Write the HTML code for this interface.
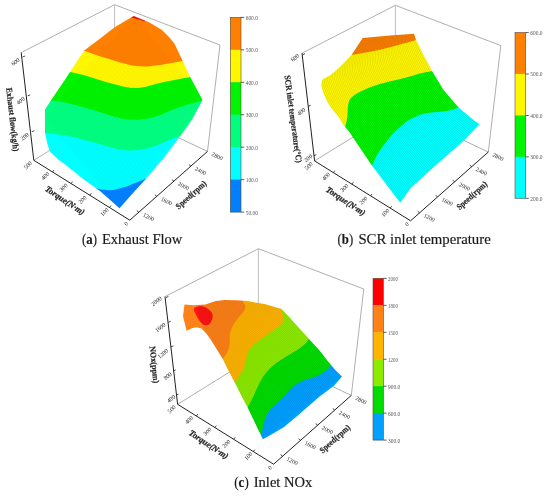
<!DOCTYPE html>
<html lang="en"><head><meta charset="utf-8"><title>Figure</title>
<style>
html,body{margin:0;padding:0;background:#fff;}
body{width:550px;height:496px;overflow:hidden;font-family:"Liberation Serif",serif;}
svg{display:block;}
</style></head><body>
<svg width="550" height="496" viewBox="0 0 550 496">
<rect width="550" height="496" fill="#ffffff"/>
<g id="plot-a"><g fill="none" stroke="#8c8c8c" stroke-width="0.7"><polyline points="21.2,52.6 114.6,4.7 220.0,45.0 207.5,151.4"/><line x1="114.6" y1="5.0" x2="114.6" y2="30" stroke="#b8b8b8" stroke-width="0.9"/><polyline points="33.8,160.3 117.0,108.7 207.5,151.4"/></g><mask id="ca" maskUnits="userSpaceOnUse" x="0" y="0" width="550" height="496"><path d="M133.7,16 L149.5,22.5 L162,30 L169.5,37.5 L174.5,43.7 L182.7,61 L190.2,77 L202.5,100 L192.3,119 L186.5,127.5 L180,136.3 L165.7,155.5 L146.3,178.5 L133,193 L119.5,208.2 L100,191 L84.5,180 L66.4,165.5 L57.7,159 L50,151.8 L47.3,143.6 L45,133 L45,109.5 L51.5,99.5 L64.8,80 L70,72 L84.2,50.4 L100.5,38.2 L114.6,27.3 L124.7,21.2 Z" fill="#fff"/></mask><g mask="url(#ca)"><rect x="0" y="0" width="550" height="496" fill="#0080FF"/><path d="M88.0,185.5 C90.1,186.1 97.2,188.5 100.5,189.3 C103.8,190.1 105.7,190.1 108.0,190.2 C110.3,190.3 112.2,190.2 114.5,189.8 C116.8,189.4 119.6,188.5 122.0,187.8 C124.4,187.1 126.4,186.4 129.0,185.4 C131.6,184.4 134.6,183.2 137.5,182.1 C140.4,180.9 143.2,179.7 146.3,178.5 C149.4,177.3 154.4,175.6 156.0,175.0 L356,175 L356,-50 L-112,-50 L-112,185.5 Z" fill="#00FFFF"/><path d="M35.0,132.3 C36.7,132.4 39.7,132.2 45.0,132.8 C50.3,133.4 60.3,134.6 67.0,135.8 C73.7,137.0 79.0,138.7 85.0,140.2 C91.0,141.7 98.5,143.8 103.0,145.0 C107.5,146.2 108.4,146.8 112.0,147.7 C115.6,148.6 120.0,149.8 124.5,150.2 C129.0,150.6 134.2,150.6 139.0,150.0 C143.8,149.4 148.8,148.2 153.6,146.6 C158.4,145.0 163.7,141.9 168.1,140.2 C172.5,138.5 176.2,137.5 180.2,136.2 C184.2,134.9 190.0,133.1 192.0,132.5 L392,132.5 L392,-50 L-165,-50 L-165,132.3 Z" fill="#00FF80"/><path d="M40.0,99.0 C41.9,99.3 46.8,99.9 51.3,100.6 C55.8,101.3 61.6,101.8 67.3,103.0 C73.0,104.2 79.5,106.1 85.5,107.8 C91.5,109.5 99.2,111.9 103.6,113.3 C108.0,114.7 109.0,115.2 112.0,116.0 C115.0,116.8 118.8,117.8 121.8,118.4 C124.8,119.0 126.3,119.4 130.0,119.5 C133.7,119.6 139.2,119.9 143.9,119.2 C148.6,118.5 153.6,117.2 158.4,115.6 C163.2,114.0 168.2,111.3 173.0,109.5 C177.8,107.7 182.6,106.2 187.5,104.7 C192.4,103.2 197.9,101.6 202.5,100.3 C207.1,99.0 212.9,97.5 215.0,97.0 L415,97 L415,-50 L-160,-50 L-160,99 Z" fill="#00F400"/><path d="M58.0,70.0 C60.0,70.3 65.1,71.0 70.0,72.0 C74.9,73.0 80.4,74.2 87.5,76.2 C94.6,78.2 104.2,81.7 112.5,83.7 C120.8,85.7 128.8,88.2 137.0,88.0 C145.2,87.8 153.1,84.3 162.0,82.5 C170.9,80.7 183.9,78.2 190.2,77.0 C196.5,75.8 198.4,75.3 200.0,75.0 L400,75 L400,-50 L-142,-50 L-142,70 Z" fill="#FFF700"/><path d="M73.0,47.5 C74.8,48.0 79.2,49.2 83.7,50.7 C88.2,52.2 95.6,54.8 100.0,56.2 C104.4,57.6 106.3,58.1 110.0,59.2 C113.7,60.3 117.7,61.9 122.0,63.0 C126.3,64.1 131.3,65.5 136.0,66.0 C140.7,66.5 145.0,66.5 150.0,66.2 C155.0,65.9 160.6,64.9 166.0,64.0 C171.4,63.1 177.6,62.0 182.4,61.0 C187.2,60.0 192.9,58.5 195.0,58.0 L395,58 L395,-50 L-127,-50 L-127,47.5 Z" fill="#FF8000"/><polygon points="130,14 145,14 145,21.5 138,19.2 131.5,17.4" fill="#FF0000"/><g stroke="rgba(0,0,0,0.07)" stroke-width="0.3" fill="none"><line x1="45.0" y1="110.0" x2="118.7" y2="207.7"/><line x1="47.2" y1="107.7" x2="120.8" y2="205.0"/><line x1="49.4" y1="105.3" x2="122.9" y2="202.3"/><line x1="51.7" y1="103.0" x2="125.0" y2="199.6"/><line x1="53.9" y1="100.6" x2="127.1" y2="196.9"/><line x1="56.1" y1="98.2" x2="129.2" y2="194.2"/><line x1="58.3" y1="95.9" x2="131.3" y2="191.5"/><line x1="60.5" y1="93.5" x2="133.4" y2="188.9"/><line x1="62.7" y1="91.2" x2="135.5" y2="186.2"/><line x1="65.0" y1="88.8" x2="137.6" y2="183.5"/><line x1="67.2" y1="86.5" x2="139.7" y2="180.8"/><line x1="69.4" y1="84.2" x2="141.7" y2="178.1"/><line x1="71.6" y1="81.8" x2="143.8" y2="175.4"/><line x1="73.8" y1="79.5" x2="145.9" y2="172.7"/><line x1="76.0" y1="77.1" x2="148.0" y2="170.0"/><line x1="78.3" y1="74.8" x2="150.1" y2="167.3"/><line x1="80.5" y1="72.4" x2="152.2" y2="164.6"/><line x1="82.7" y1="70.1" x2="154.3" y2="161.9"/><line x1="84.9" y1="67.7" x2="156.4" y2="159.2"/><line x1="87.1" y1="65.3" x2="158.5" y2="156.5"/><line x1="89.3" y1="63.0" x2="160.6" y2="153.8"/><line x1="91.6" y1="60.6" x2="162.7" y2="151.2"/><line x1="93.8" y1="58.3" x2="164.8" y2="148.5"/><line x1="96.0" y1="56.0" x2="166.9" y2="145.8"/><line x1="98.2" y1="53.6" x2="169.0" y2="143.1"/><line x1="100.4" y1="51.2" x2="171.1" y2="140.4"/><line x1="102.7" y1="48.9" x2="173.2" y2="137.7"/><line x1="104.9" y1="46.5" x2="175.3" y2="135.0"/><line x1="107.1" y1="44.2" x2="177.4" y2="132.3"/><line x1="109.3" y1="41.9" x2="179.5" y2="129.6"/><line x1="111.5" y1="39.5" x2="181.6" y2="126.9"/><line x1="113.7" y1="37.1" x2="183.6" y2="124.2"/><line x1="116.0" y1="34.8" x2="185.7" y2="121.5"/><line x1="118.2" y1="32.5" x2="187.8" y2="118.8"/><line x1="120.4" y1="30.1" x2="189.9" y2="116.2"/><line x1="122.6" y1="27.8" x2="192.0" y2="113.5"/><line x1="124.8" y1="25.4" x2="194.1" y2="110.8"/><line x1="127.0" y1="23.0" x2="196.2" y2="108.1"/><line x1="129.3" y1="20.7" x2="198.3" y2="105.4"/><line x1="131.5" y1="18.4" x2="200.4" y2="102.7"/><line x1="133.7" y1="16.0" x2="202.5" y2="100.0"/></g><g stroke="rgba(0,0,0,0.13)" stroke-width="0.3" fill="none"><line x1="45.0" y1="120.0" x2="133.7" y2="16.0"/><line x1="46.4" y1="121.7" x2="135.0" y2="17.6"/><line x1="47.8" y1="123.4" x2="136.3" y2="19.2"/><line x1="49.3" y1="125.1" x2="137.7" y2="20.8"/><line x1="50.7" y1="126.7" x2="139.0" y2="22.5"/><line x1="52.1" y1="128.4" x2="140.3" y2="24.1"/><line x1="53.5" y1="130.1" x2="141.6" y2="25.7"/><line x1="54.9" y1="131.8" x2="143.0" y2="27.3"/><line x1="56.3" y1="133.5" x2="144.3" y2="28.9"/><line x1="57.8" y1="135.2" x2="145.6" y2="30.5"/><line x1="59.2" y1="136.9" x2="146.9" y2="32.2"/><line x1="60.6" y1="138.6" x2="148.3" y2="33.8"/><line x1="62.0" y1="140.2" x2="149.6" y2="35.4"/><line x1="63.4" y1="141.9" x2="150.9" y2="37.0"/><line x1="64.8" y1="143.6" x2="152.2" y2="38.6"/><line x1="66.3" y1="145.3" x2="153.5" y2="40.2"/><line x1="67.7" y1="147.0" x2="154.9" y2="41.8"/><line x1="69.1" y1="148.7" x2="156.2" y2="43.5"/><line x1="70.5" y1="150.4" x2="157.5" y2="45.1"/><line x1="71.9" y1="152.0" x2="158.8" y2="46.7"/><line x1="73.3" y1="153.7" x2="160.2" y2="48.3"/><line x1="74.8" y1="155.4" x2="161.5" y2="49.9"/><line x1="76.2" y1="157.1" x2="162.8" y2="51.5"/><line x1="77.6" y1="158.8" x2="164.1" y2="53.2"/><line x1="79.0" y1="160.5" x2="165.5" y2="54.8"/><line x1="80.4" y1="162.2" x2="166.8" y2="56.4"/><line x1="81.8" y1="163.8" x2="168.1" y2="58.0"/><line x1="83.3" y1="165.5" x2="169.4" y2="59.6"/><line x1="84.7" y1="167.2" x2="170.7" y2="61.2"/><line x1="86.1" y1="168.9" x2="172.1" y2="62.8"/><line x1="87.5" y1="170.6" x2="173.4" y2="64.5"/><line x1="88.9" y1="172.3" x2="174.7" y2="66.1"/><line x1="90.4" y1="174.0" x2="176.0" y2="67.7"/><line x1="91.8" y1="175.7" x2="177.4" y2="69.3"/><line x1="93.2" y1="177.3" x2="178.7" y2="70.9"/><line x1="94.6" y1="179.0" x2="180.0" y2="72.5"/><line x1="96.0" y1="180.7" x2="181.3" y2="74.2"/><line x1="97.4" y1="182.4" x2="182.7" y2="75.8"/><line x1="98.9" y1="184.1" x2="184.0" y2="77.4"/><line x1="100.3" y1="185.8" x2="185.3" y2="79.0"/><line x1="101.7" y1="187.5" x2="186.6" y2="80.6"/><line x1="103.1" y1="189.1" x2="187.9" y2="82.2"/><line x1="104.5" y1="190.8" x2="189.3" y2="83.8"/><line x1="105.9" y1="192.5" x2="190.6" y2="85.5"/><line x1="107.4" y1="194.2" x2="191.9" y2="87.1"/><line x1="108.8" y1="195.9" x2="193.2" y2="88.7"/><line x1="110.2" y1="197.6" x2="194.6" y2="90.3"/><line x1="111.6" y1="199.3" x2="195.9" y2="91.9"/><line x1="113.0" y1="201.0" x2="197.2" y2="93.5"/><line x1="114.4" y1="202.6" x2="198.5" y2="95.2"/><line x1="115.9" y1="204.3" x2="199.9" y2="96.8"/><line x1="117.3" y1="206.0" x2="201.2" y2="98.4"/><line x1="118.7" y1="207.7" x2="202.5" y2="100.0"/></g></g><polyline points="21.2,52.6 33.8,160.3 129.8,220.2 207.5,151.4" fill="none" stroke="#151515" stroke-width="0.95" stroke-linejoin="round"/><g stroke="#1a1a1a" stroke-width="0.8"><line x1="22.6" y1="57.0" x2="25.0" y2="56.0"/><line x1="27.7" y1="95.9" x2="30.1" y2="94.9"/><line x1="31.9" y1="131.7" x2="34.3" y2="130.7"/></g><text transform="translate(15.4,61.8) rotate(-38)" y="2.0" font-size="5.9" font-family="Liberation Serif, serif" font-weight="normal" font-style="normal" text-anchor="middle" fill="#262626" >600</text><text transform="translate(20.5,100.7) rotate(-38)" y="2.0" font-size="5.9" font-family="Liberation Serif, serif" font-weight="normal" font-style="normal" text-anchor="middle" fill="#262626" >400</text><text transform="translate(24.7,136.5) rotate(-38)" y="2.0" font-size="5.9" font-family="Liberation Serif, serif" font-weight="normal" font-style="normal" text-anchor="middle" fill="#262626" >200</text><g stroke="#1a1a1a" stroke-width="0.8"><line x1="52.5" y1="172.0" x2="54.1" y2="170.1"/><line x1="71.0" y1="183.5" x2="72.6" y2="181.6"/><line x1="89.8" y1="195.2" x2="91.4" y2="193.3"/><line x1="109.4" y1="207.5" x2="111.0" y2="205.6"/></g><text transform="translate(27.8,165.3) rotate(-43)" y="2.1" font-size="5.9" font-family="Liberation Serif, serif" font-weight="normal" font-style="normal" text-anchor="middle" fill="#262626" >500</text><text transform="translate(45.2,175.9) rotate(-43)" y="2.1" font-size="5.9" font-family="Liberation Serif, serif" font-weight="normal" font-style="normal" text-anchor="middle" fill="#262626" >400</text><text transform="translate(63.5,187.4) rotate(-43)" y="2.1" font-size="5.9" font-family="Liberation Serif, serif" font-weight="normal" font-style="normal" text-anchor="middle" fill="#262626" >300</text><text transform="translate(82.5,199.8) rotate(-43)" y="2.1" font-size="5.9" font-family="Liberation Serif, serif" font-weight="normal" font-style="normal" text-anchor="middle" fill="#262626" >200</text><text transform="translate(104.4,212.0) rotate(-43)" y="2.1" font-size="5.9" font-family="Liberation Serif, serif" font-weight="normal" font-style="normal" text-anchor="middle" fill="#262626" >100</text><text transform="translate(126.2,223.7) rotate(-43)" y="2.1" font-size="5.9" font-family="Liberation Serif, serif" font-weight="normal" font-style="normal" text-anchor="middle" fill="#262626" >0</text><g stroke="#1a1a1a" stroke-width="0.8"><line x1="138.8" y1="212.2" x2="136.8" y2="210.6"/><line x1="156.8" y1="196.3" x2="154.8" y2="194.7"/><line x1="173.9" y1="181.2" x2="171.9" y2="179.6"/><line x1="190.9" y1="166.1" x2="188.9" y2="164.5"/></g><text transform="translate(148.6,216.9) rotate(27)" y="2.1" font-size="5.9" font-family="Liberation Serif, serif" font-weight="normal" font-style="normal" text-anchor="middle" fill="#262626" >1200</text><text transform="translate(166.6,201.0) rotate(27)" y="2.1" font-size="5.9" font-family="Liberation Serif, serif" font-weight="normal" font-style="normal" text-anchor="middle" fill="#262626" >1600</text><text transform="translate(183.7,185.9) rotate(27)" y="2.1" font-size="5.9" font-family="Liberation Serif, serif" font-weight="normal" font-style="normal" text-anchor="middle" fill="#262626" >2000</text><text transform="translate(200.7,170.8) rotate(27)" y="2.1" font-size="5.9" font-family="Liberation Serif, serif" font-weight="normal" font-style="normal" text-anchor="middle" fill="#262626" >2400</text><text transform="translate(217.3,156.1) rotate(27)" y="2.1" font-size="5.9" font-family="Liberation Serif, serif" font-weight="normal" font-style="normal" text-anchor="middle" fill="#262626" >2800</text><text transform="translate(64.8,200.7) rotate(33.5)" y="2.6" font-size="8.7" font-family="Liberation Serif, serif" font-weight="bold" font-style="italic" text-anchor="middle" fill="#262626" textLength="45.5" lengthAdjust="spacingAndGlyphs" stroke="#222" stroke-width="0.25">Torque(N·m)</text><text transform="translate(191.2,195.0) rotate(-42)" y="2.6" font-size="8.6" font-family="Liberation Serif, serif" font-weight="bold" font-style="normal" text-anchor="middle" fill="#262626" textLength="38" lengthAdjust="spacingAndGlyphs" stroke="#222" stroke-width="0.2">Speed(rpm)</text><text transform="translate(12.4,119.6) rotate(83.7)" y="2.6" font-size="8.6" font-family="Liberation Serif, serif" font-weight="bold" font-style="normal" text-anchor="middle" fill="#262626" textLength="64" lengthAdjust="spacingAndGlyphs" stroke="#222" stroke-width="0.2">Exhaust flow(kg/h)</text><rect x="230.3" y="17.30" width="10.70" height="32.75" fill="#FF8000"/><rect x="230.3" y="49.75" width="10.70" height="32.75" fill="#FFF700"/><rect x="230.3" y="82.20" width="10.70" height="32.75" fill="#00F400"/><rect x="230.3" y="114.65" width="10.70" height="32.75" fill="#00FF80"/><rect x="230.3" y="147.10" width="10.70" height="32.75" fill="#00FFFF"/><rect x="230.3" y="179.55" width="10.70" height="32.75" fill="#0080FF"/><rect x="230.3" y="17.30" width="10.70" height="194.70" fill="none" stroke="#5a4a3a" stroke-width="0.6"/><line x1="241.0" y1="17.40" x2="244.20" y2="17.40" stroke="#333" stroke-width="0.8"/><text x="245.70" y="19.80" font-size="5.2" font-family="Liberation Serif, serif" fill="#555" textLength="12.20" lengthAdjust="spacingAndGlyphs">600.0</text><line x1="241.0" y1="49.85" x2="244.20" y2="49.85" stroke="#333" stroke-width="0.8"/><text x="245.70" y="52.25" font-size="5.2" font-family="Liberation Serif, serif" fill="#555" textLength="12.20" lengthAdjust="spacingAndGlyphs">500.0</text><line x1="241.0" y1="82.30" x2="244.20" y2="82.30" stroke="#333" stroke-width="0.8"/><text x="245.70" y="84.70" font-size="5.2" font-family="Liberation Serif, serif" fill="#555" textLength="12.20" lengthAdjust="spacingAndGlyphs">400.0</text><line x1="241.0" y1="114.75" x2="244.20" y2="114.75" stroke="#333" stroke-width="0.8"/><text x="245.70" y="117.15" font-size="5.2" font-family="Liberation Serif, serif" fill="#555" textLength="12.20" lengthAdjust="spacingAndGlyphs">300.0</text><line x1="241.0" y1="147.20" x2="244.20" y2="147.20" stroke="#333" stroke-width="0.8"/><text x="245.70" y="149.60" font-size="5.2" font-family="Liberation Serif, serif" fill="#555" textLength="12.20" lengthAdjust="spacingAndGlyphs">200.0</text><line x1="241.0" y1="179.65" x2="244.20" y2="179.65" stroke="#333" stroke-width="0.8"/><text x="245.70" y="182.05" font-size="5.2" font-family="Liberation Serif, serif" fill="#555" textLength="12.20" lengthAdjust="spacingAndGlyphs">100.0</text><line x1="241.0" y1="212.10" x2="244.20" y2="212.10" stroke="#333" stroke-width="0.8"/><text x="245.70" y="214.50" font-size="5.2" font-family="Liberation Serif, serif" fill="#555" textLength="12.20" lengthAdjust="spacingAndGlyphs">50.00</text></g>
<g id="plot-b"><g fill="none" stroke="#8c8c8c" stroke-width="0.7"><polyline points="302.0,53.2 395.4,5.3 500.8,45.6 488.3,152.0"/><line x1="395.4" y1="5.6" x2="395.4" y2="36" stroke="#b8b8b8" stroke-width="0.9"/><polyline points="314.6,160.9 397.8,109.3 488.3,152.0"/></g><mask id="cb" maskUnits="userSpaceOnUse" x="0" y="0" width="550" height="496"><path d="M362.7,38 L390,35.5 L414,33.7 L416,40 L423.5,55 L432,71 L443.5,90 L458.5,107.5 L476,122 L479.7,124 L464.7,140 L436,165 L411,187.7 L400.2,202.7 L371.5,165 L349,131.5 L342.7,124 L339,117.5 L332.7,110 L327.7,102.5 L324,95 L321.3,85.5 L322.4,79.5 L330.2,75.2 L337.7,69.1 L345.3,61.5 L351.5,55 Z" fill="#fff"/></mask><g mask="url(#cb)"><rect x="0" y="0" width="550" height="496" fill="#00FFFF"/><path d="M362.0,180.0 C363.6,177.8 368.7,170.8 371.3,166.5 C373.9,162.2 375.2,158.1 377.4,154.4 C379.6,150.7 381.9,147.7 384.4,144.3 C386.9,140.9 389.8,137.1 392.5,134.2 C395.2,131.2 398.3,128.7 400.6,126.6 C402.9,124.5 404.5,123.2 406.5,121.8 C408.5,120.4 410.0,119.3 412.7,118.0 C415.4,116.7 418.9,115.0 422.5,114.0 C426.1,113.0 430.2,112.7 434.0,112.2 C437.8,111.7 442.5,111.6 445.5,111.2 C448.5,110.8 449.8,110.4 452.0,109.8 C454.2,109.2 455.5,108.5 458.5,107.5 C461.5,106.5 468.1,104.2 470.0,103.5 L670,103.5 L670,-50 L162,-50 L162,180 Z" fill="#00F400"/><path d="M340.0,145.0 C340.9,141.9 344.0,131.0 345.2,126.5 C346.4,122.0 346.7,121.3 347.2,118.0 C347.7,114.7 347.5,109.6 348.0,106.4 C348.5,103.2 348.9,101.2 350.2,99.1 C351.5,97.0 353.3,95.7 356.0,94.0 C358.7,92.3 362.1,90.6 366.2,88.9 C370.3,87.2 375.4,85.4 380.7,83.8 C386.0,82.2 392.9,80.8 398.2,79.5 C403.5,78.2 409.1,76.8 412.7,75.8 C416.3,74.8 416.8,74.4 420.0,73.6 C423.2,72.8 427.8,71.9 432.0,71.0 C436.2,70.1 442.8,68.5 445.0,68.0 L645,68 L645,-50 L140,-50 L140,145 Z" fill="#FFF700"/><path d="M340.0,57.5 C341.9,57.1 345.0,56.2 351.5,55.0 C358.0,53.8 369.1,52.2 379.0,50.0 C388.9,47.8 404.8,43.2 411.0,41.5 C417.2,39.8 413.2,40.8 416.0,40.0 C418.8,39.2 426.0,37.5 428.0,37.0 L628,37 L628,-50 L140,-50 L140,57.5 Z" fill="#FF8000"/><g stroke="rgba(0,0,0,0.25)" stroke-width="0.38" fill="none"><path d="M400.2,202.7 C395.4,196.4 380.0,176.9 371.5,165.0 C363.0,153.1 355.5,140.7 349.0,131.5 C342.5,122.3 337.3,117.8 332.7,110.0 C328.1,102.2 323.3,91.3 321.5,85.0 C319.7,78.7 320.8,76.8 322.0,72.0 C323.2,67.2 326.0,61.7 329.0,56.0 C332.0,50.3 336.2,44.0 340.0,38.0 C343.8,32.0 350.0,23.0 352.0,20.0"/><path d="M401.5,201.4 C396.8,195.2 381.4,175.8 372.9,164.0 C364.5,152.3 357.0,139.9 350.6,130.8 C344.1,121.7 338.9,117.1 334.4,109.3 C329.8,101.6 325.0,90.8 323.2,84.5 C321.4,78.2 322.4,76.4 323.6,71.6 C324.8,66.8 327.5,61.3 330.4,55.7 C333.4,50.1 337.5,43.9 341.2,37.9 C345.0,32.0 351.0,23.1 353.0,20.1"/><path d="M402.8,200.1 C398.1,193.9 382.8,174.7 374.4,163.1 C365.9,151.4 358.5,139.2 352.1,130.1 C345.8,121.1 340.6,116.4 336.0,108.7 C331.5,101.0 326.7,90.3 324.9,84.0 C323.1,77.7 324.1,75.9 325.2,71.1 C326.4,66.4 329.0,61.0 331.9,55.5 C334.8,49.9 338.8,43.7 342.5,37.9 C346.1,32.0 352.1,23.2 354.0,20.2"/><path d="M404.2,198.8 C399.5,192.7 384.3,173.7 375.9,162.1 C367.4,150.6 360.1,138.4 353.7,129.4 C347.4,120.4 342.2,115.7 337.7,108.0 C333.1,100.4 328.4,89.7 326.6,83.5 C324.8,77.3 325.7,75.4 326.9,70.7 C328.0,66.0 330.5,60.7 333.4,55.2 C336.2,49.7 340.1,43.6 343.7,37.8 C347.3,32.0 353.1,23.3 355.0,20.4"/><path d="M405.5,197.5 C400.8,191.4 385.7,172.6 377.3,161.2 C368.9,149.7 361.6,137.7 355.3,128.7 C349.0,119.8 343.8,115.0 339.3,107.4 C334.8,99.8 330.1,89.2 328.3,83.0 C326.5,76.8 327.4,74.9 328.5,70.3 C329.5,65.6 332.1,60.4 334.8,54.9 C337.5,49.5 341.4,43.5 344.9,37.7 C348.5,32.0 354.2,23.3 356.0,20.5"/><path d="M406.8,196.1 C402.1,190.2 387.1,171.6 378.8,160.2 C370.4,148.9 363.2,137.0 356.9,128.0 C350.6,119.1 345.5,114.3 341.0,106.8 C336.5,99.2 331.8,88.7 330.0,82.5 C328.2,76.3 329.0,74.5 330.1,69.8 C331.1,65.2 333.6,60.0 336.2,54.7 C338.9,49.3 342.7,43.3 346.2,37.6 C349.6,32.0 355.2,23.4 357.0,20.6"/><path d="M408.1,194.8 C403.5,188.9 388.5,170.5 380.2,159.2 C371.9,148.0 364.7,136.2 358.4,127.3 C352.2,118.5 347.1,113.7 342.6,106.1 C338.2,98.5 333.5,88.1 331.7,82.0 C329.9,75.9 330.7,74.0 331.7,69.4 C332.7,64.8 335.1,59.7 337.7,54.4 C340.3,49.1 344.0,43.2 347.4,37.6 C350.8,32.0 356.2,23.5 358.0,20.7"/><path d="M409.5,193.5 C404.8,187.6 389.9,169.4 381.6,158.3 C373.4,147.1 366.3,135.5 360.0,126.7 C353.8,117.9 348.7,113.0 344.3,105.5 C339.8,97.9 335.2,87.6 333.4,81.5 C331.6,75.4 332.4,73.5 333.3,69.0 C334.3,64.4 336.6,59.4 339.1,54.1 C341.7,48.9 345.3,43.1 348.6,37.5 C351.9,31.9 357.3,23.6 359.0,20.8"/><path d="M410.8,192.2 C406.2,186.4 391.3,168.4 383.1,157.3 C374.9,146.3 367.8,134.7 361.6,126.0 C355.4,117.2 350.4,112.3 345.9,104.8 C341.5,97.3 336.9,87.0 335.1,81.0 C333.3,75.0 334.0,73.1 334.9,68.5 C335.9,64.0 338.1,59.1 340.6,53.9 C343.1,48.7 346.6,42.9 349.9,37.4 C353.1,31.9 358.3,23.7 360.0,20.9"/><path d="M412.1,190.9 C407.5,185.1 392.7,167.3 384.6,156.4 C376.4,145.4 369.3,134.0 363.2,125.3 C357.0,116.6 352.0,111.6 347.6,104.2 C343.2,96.7 338.6,86.5 336.8,80.5 C335.0,74.5 335.7,72.6 336.6,68.1 C337.4,63.6 339.6,58.7 342.1,53.6 C344.5,48.5 347.9,42.8 351.1,37.4 C354.3,31.9 359.4,23.8 361.0,21.1"/><path d="M413.4,189.6 C408.9,183.9 394.1,166.2 386.0,155.4 C377.9,144.6 370.9,133.2 364.8,124.6 C358.6,115.9 353.6,110.9 349.2,103.5 C344.9,96.1 340.3,86.0 338.5,80.0 C336.7,74.0 337.3,72.1 338.2,67.7 C339.0,63.2 341.1,58.4 343.5,53.3 C345.9,48.3 349.2,42.6 352.3,37.3 C355.4,31.9 360.4,23.9 362.0,21.2"/><path d="M414.8,188.3 C410.2,182.6 395.5,165.2 387.4,154.5 C379.4,143.7 372.4,132.5 366.3,123.9 C360.2,115.3 355.3,110.2 350.9,102.8 C346.6,95.5 342.1,85.4 340.2,79.5 C338.3,73.6 339.0,71.6 339.8,67.2 C340.6,62.8 342.7,58.1 344.9,53.1 C347.2,48.1 350.6,42.5 353.6,37.2 C356.6,31.9 361.4,23.9 363.0,21.3"/><path d="M416.1,187.0 C411.6,181.4 396.9,164.1 388.9,153.5 C380.9,142.9 374.0,131.8 367.9,123.2 C361.8,114.7 356.9,109.6 352.6,102.2 C348.2,94.8 343.8,84.9 341.9,79.0 C340.0,73.1 340.6,71.2 341.4,66.8 C342.1,62.4 344.2,57.7 346.4,52.8 C348.6,47.9 351.9,42.4 354.8,37.1 C357.7,31.9 362.5,24.0 364.0,21.4"/><path d="M417.4,185.6 C412.9,180.1 398.3,163.1 390.4,152.5 C382.4,142.0 375.5,131.0 369.5,122.5 C363.5,114.0 358.5,108.9 354.2,101.5 C349.9,94.2 345.5,84.4 343.6,78.5 C341.7,72.6 342.3,70.7 343.0,66.4 C343.7,62.0 345.7,57.4 347.9,52.5 C350.0,47.7 353.2,42.2 356.0,37.1 C358.9,31.9 363.5,24.1 365.0,21.5"/><path d="M418.8,184.3 C414.3,178.9 399.8,162.0 391.8,151.6 C383.9,141.2 377.0,130.3 371.1,121.8 C365.1,113.4 360.2,108.2 355.9,100.9 C351.6,93.6 347.2,83.8 345.3,78.0 C343.4,72.2 344.0,70.2 344.6,65.9 C345.3,61.6 347.2,57.1 349.3,52.3 C351.4,47.4 354.5,42.1 357.3,37.0 C360.0,31.9 364.5,24.2 366.0,21.6"/><path d="M420.1,183.0 C415.6,177.6 401.2,160.9 393.2,150.6 C385.3,140.3 378.6,129.5 372.6,121.1 C366.7,112.7 361.8,107.5 357.5,100.2 C353.3,93.0 348.9,83.3 347.0,77.5 C345.1,71.7 345.6,69.8 346.2,65.5 C346.9,61.2 348.7,56.8 350.8,52.0 C352.8,47.2 355.8,42.0 358.5,36.9 C361.2,31.9 365.6,24.3 367.0,21.8"/><path d="M421.4,181.7 C416.9,176.4 402.6,159.9 394.7,149.7 C386.8,139.5 380.1,128.8 374.2,120.4 C368.3,112.1 363.4,106.8 359.2,99.6 C354.9,92.4 350.6,82.8 348.7,77.0 C346.8,71.2 347.3,69.3 347.9,65.1 C348.4,60.9 350.2,56.4 352.2,51.7 C354.2,47.0 357.1,41.8 359.7,36.9 C362.4,31.9 366.6,24.4 368.0,21.9"/><path d="M422.7,180.4 C418.3,175.1 404.0,158.8 396.1,148.7 C388.3,138.6 381.7,128.0 375.8,119.7 C369.9,111.4 365.1,106.2 360.8,99.0 C356.6,91.7 352.3,82.2 350.4,76.5 C348.5,70.8 348.9,68.8 349.5,64.6 C350.0,60.5 351.7,56.1 353.6,51.5 C355.6,46.8 358.4,41.7 361.0,36.8 C363.5,31.9 367.7,24.4 369.0,22.0"/><path d="M424.1,179.1 C419.6,173.9 405.4,157.8 397.6,147.8 C389.8,137.7 383.2,127.3 377.4,119.0 C371.5,110.8 366.7,105.5 362.5,98.3 C358.3,91.1 354.0,81.7 352.1,76.0 C350.2,70.3 350.6,68.3 351.1,64.2 C351.6,60.1 353.2,55.8 355.1,51.2 C357.0,46.6 359.7,41.6 362.2,36.7 C364.7,31.9 368.7,24.5 370.0,22.1"/><path d="M425.4,177.8 C421.0,172.6 406.8,156.7 399.1,146.8 C391.3,136.9 384.7,126.5 378.9,118.4 C373.1,110.2 368.3,104.8 364.1,97.7 C360.0,90.5 355.7,81.1 353.8,75.5 C351.9,69.9 352.3,67.9 352.7,63.8 C353.2,59.7 354.8,55.5 356.6,50.9 C358.3,46.4 361.0,41.4 363.4,36.6 C365.8,31.9 369.7,24.6 371.0,22.2"/><path d="M426.7,176.5 C422.3,171.4 408.2,155.6 400.5,145.8 C392.8,136.0 386.3,125.8 380.5,117.7 C374.7,109.5 370.0,104.1 365.8,97.0 C361.6,89.9 357.4,80.6 355.5,75.0 C353.6,69.4 353.9,67.4 354.3,63.3 C354.8,59.3 356.3,55.1 358.0,50.7 C359.7,46.2 362.3,41.3 364.7,36.6 C367.0,31.8 370.8,24.7 372.0,22.3"/><path d="M428.0,175.2 C423.7,170.1 409.6,154.6 401.9,144.9 C394.3,135.2 387.8,125.1 382.1,117.0 C376.3,108.9 371.6,103.4 367.5,96.3 C363.3,89.3 359.1,80.1 357.2,74.5 C355.3,68.9 355.6,66.9 355.9,62.9 C356.3,58.9 357.8,54.8 359.4,50.4 C361.1,46.0 363.6,41.2 365.9,36.5 C368.2,31.8 371.8,24.8 373.0,22.4"/><path d="M429.3,173.8 C425.0,168.9 411.0,153.5 403.4,143.9 C395.8,134.3 389.4,124.3 383.6,116.3 C377.9,108.2 373.2,102.7 369.1,95.7 C365.0,88.7 360.8,79.5 358.9,74.0 C357.0,68.5 357.2,66.4 357.6,62.5 C357.9,58.5 359.3,54.5 360.9,50.1 C362.5,45.8 364.9,41.0 367.1,36.4 C369.3,31.8 372.9,24.9 374.0,22.6"/><path d="M430.7,172.5 C426.4,167.6 412.4,152.4 404.9,143.0 C397.3,133.5 390.9,123.6 385.2,115.6 C379.5,107.6 374.9,102.1 370.8,95.0 C366.7,88.0 362.5,79.0 360.6,73.5 C358.7,68.0 358.9,66.0 359.2,62.0 C359.5,58.1 360.8,54.1 362.4,49.9 C363.9,45.6 366.3,40.9 368.4,36.4 C370.5,31.8 373.9,25.0 375.0,22.7"/><path d="M432.0,171.2 C427.7,166.3 413.8,151.4 406.3,142.0 C398.8,132.6 392.4,122.8 386.8,114.9 C381.2,107.0 376.5,101.4 372.4,94.4 C368.3,87.4 364.2,78.5 362.3,73.0 C360.4,67.5 360.6,65.5 360.8,61.6 C361.1,57.7 362.3,53.8 363.8,49.6 C365.3,45.4 367.6,40.7 369.6,36.3 C371.6,31.8 374.9,25.0 376.0,22.8"/><path d="M433.3,169.9 C429.1,165.1 415.2,150.3 407.8,141.0 C400.3,131.8 394.0,122.1 388.4,114.2 C382.8,106.3 378.1,100.7 374.1,93.8 C370.0,86.8 365.9,77.9 364.0,72.5 C362.1,67.1 362.2,65.0 362.4,61.2 C362.6,57.3 363.8,53.5 365.2,49.3 C366.7,45.2 368.9,40.6 370.8,36.2 C372.8,31.8 376.0,25.1 377.0,22.9"/><path d="M434.6,168.6 C430.4,163.8 416.6,149.3 409.2,140.1 C401.8,130.9 395.5,121.3 389.9,113.5 C384.4,105.7 379.8,100.0 375.7,93.1 C371.7,86.2 367.6,77.4 365.7,72.0 C363.8,66.6 363.9,64.6 364.0,60.7 C364.2,56.9 365.4,53.2 366.7,49.1 C368.0,45.0 370.2,40.5 372.1,36.1 C373.9,31.8 377.0,25.2 378.0,23.0"/><path d="M436.0,167.3 C431.8,162.6 418.1,148.2 410.6,139.1 C403.2,130.0 397.1,120.6 391.5,112.8 C386.0,105.0 381.4,99.3 377.4,92.5 C373.4,85.6 369.4,76.9 367.4,71.5 C365.4,66.1 365.5,64.1 365.6,60.3 C365.8,56.5 366.9,52.8 368.1,48.8 C369.4,44.8 371.5,40.3 373.3,36.1 C375.1,31.8 378.1,25.3 379.0,23.1"/><path d="M437.3,166.0 C433.1,161.3 419.5,147.1 412.1,138.2 C404.7,129.2 398.6,119.9 393.1,112.1 C387.6,104.4 383.0,98.7 379.0,91.8 C375.0,84.9 371.1,76.3 369.1,71.0 C367.1,65.7 367.2,63.6 367.3,59.9 C367.3,56.1 368.4,52.5 369.6,48.5 C370.8,44.6 372.8,40.2 374.5,36.0 C376.3,31.8 379.1,25.4 380.0,23.3"/><path d="M438.6,164.7 C434.4,160.1 420.9,146.1 413.6,137.2 C406.2,128.3 400.2,119.1 394.7,111.4 C389.2,103.8 384.7,98.0 380.7,91.2 C376.7,84.3 372.8,75.8 370.8,70.5 C368.8,65.2 368.8,63.1 368.9,59.4 C368.9,55.7 369.9,52.2 371.1,48.3 C372.2,44.3 374.1,40.1 375.8,35.9 C377.4,31.8 380.1,25.5 381.0,23.4"/><path d="M439.9,163.3 C435.8,158.8 422.3,145.0 415.0,136.2 C407.7,127.5 401.7,118.4 396.2,110.8 C390.8,103.1 386.3,97.3 382.4,90.5 C378.4,83.7 374.5,75.2 372.5,70.0 C370.5,64.8 370.5,62.7 370.5,59.0 C370.5,55.3 371.4,51.9 372.5,48.0 C373.6,44.1 375.4,39.9 377.0,35.9 C378.6,31.8 381.2,25.6 382.0,23.5"/><path d="M441.3,162.0 C437.1,157.6 423.7,144.0 416.4,135.3 C409.2,126.6 403.2,117.6 397.8,110.1 C392.4,102.5 387.9,96.6 384.0,89.8 C380.1,83.1 376.2,74.7 374.2,69.5 C372.2,64.3 372.2,62.2 372.1,58.6 C372.1,54.9 372.9,51.5 373.9,47.7 C375.0,43.9 376.7,39.8 378.2,35.8 C379.7,31.8 382.2,25.6 383.0,23.6"/><path d="M442.6,160.7 C438.5,156.3 425.1,142.9 417.9,134.3 C410.7,125.8 404.8,116.9 399.4,109.4 C394.0,101.8 389.6,95.9 385.7,89.2 C381.7,82.5 377.9,74.2 375.9,69.0 C373.9,63.8 373.8,61.7 373.7,58.1 C373.7,54.5 374.4,51.2 375.4,47.5 C376.4,43.7 378.0,39.7 379.5,35.7 C380.9,31.8 383.2,25.7 384.0,23.7"/><path d="M443.9,159.4 C439.8,155.1 426.5,141.8 419.4,133.4 C412.2,124.9 406.3,116.1 401.0,108.7 C395.6,101.2 391.2,95.2 387.3,88.5 C383.4,81.9 379.6,73.6 377.6,68.5 C375.6,63.4 375.5,61.2 375.4,57.7 C375.2,54.2 376.0,50.9 376.9,47.2 C377.7,43.5 379.3,39.5 380.7,35.6 C382.1,31.7 384.3,25.8 385.0,23.9"/><path d="M445.2,158.1 C441.2,153.8 427.9,140.8 420.8,132.4 C413.7,124.1 407.9,115.4 402.6,108.0 C397.2,100.6 392.8,94.6 389.0,87.9 C385.1,81.2 381.3,73.1 379.3,68.0 C377.3,62.9 377.1,60.8 377.0,57.3 C376.8,53.8 377.5,50.6 378.3,46.9 C379.1,43.3 380.6,39.4 381.9,35.6 C383.2,31.7 385.3,25.9 386.0,24.0"/><path d="M446.6,156.8 C442.5,152.6 429.3,139.7 422.2,131.5 C415.2,123.2 409.4,114.7 404.1,107.3 C398.9,99.9 394.5,93.9 390.6,87.2 C386.8,80.6 383.0,72.6 381.0,67.5 C379.0,62.4 378.8,60.3 378.6,56.8 C378.4,53.4 379.0,50.2 379.8,46.7 C380.5,43.1 382.0,39.3 383.2,35.5 C384.4,31.7 386.4,26.0 387.0,24.1"/><path d="M447.9,155.5 C443.9,151.3 430.7,138.6 423.7,130.5 C416.7,122.4 410.9,113.9 405.7,106.6 C400.5,99.3 396.1,93.2 392.3,86.6 C388.4,80.0 384.7,72.0 382.7,67.0 C380.7,62.0 380.4,59.8 380.2,56.4 C379.9,53.0 380.5,49.9 381.2,46.4 C381.9,42.9 383.3,39.1 384.4,35.4 C385.5,31.7 387.4,26.1 388.0,24.2"/><path d="M449.2,154.2 C445.2,150.1 432.1,137.6 425.1,129.5 C418.2,121.5 412.5,113.2 407.3,105.9 C402.1,98.6 397.7,92.5 393.9,86.0 C390.1,79.4 386.4,71.5 384.4,66.5 C382.4,61.5 382.1,59.4 381.8,56.0 C381.5,52.6 382.0,49.6 382.6,46.1 C383.3,42.7 384.6,39.0 385.6,35.3 C386.7,31.7 388.4,26.2 389.0,24.3"/><path d="M450.5,152.9 C446.6,148.8 433.6,136.5 426.6,128.6 C419.7,120.6 414.0,112.4 408.9,105.2 C403.7,98.0 399.4,91.8 395.6,85.3 C391.8,78.8 388.1,71.0 386.1,66.0 C384.1,61.0 383.8,58.9 383.4,55.5 C383.1,52.2 383.5,49.2 384.1,45.9 C384.7,42.5 385.9,38.8 386.9,35.3 C387.9,31.7 389.5,26.2 390.0,24.4"/><path d="M451.9,151.5 C447.9,147.6 435.0,135.5 428.1,127.6 C421.1,119.8 415.6,111.7 410.4,104.5 C405.3,97.4 401.0,91.2 397.2,84.7 C393.5,78.1 389.8,70.4 387.8,65.5 C385.8,60.6 385.4,58.4 385.1,55.1 C384.7,51.8 385.0,48.9 385.6,45.6 C386.1,42.3 387.2,38.7 388.1,35.2 C389.0,31.7 390.5,26.3 391.0,24.6"/><path d="M453.2,150.2 C449.2,146.3 436.4,134.4 429.5,126.7 C422.6,118.9 417.1,110.9 412.0,103.8 C406.9,96.7 402.6,90.5 398.9,84.0 C395.1,77.5 391.5,69.9 389.5,65.0 C387.5,60.1 387.1,57.9 386.7,54.7 C386.2,51.4 386.6,48.6 387.0,45.3 C387.4,42.1 388.5,38.6 389.3,35.1 C390.2,31.7 391.6,26.4 392.0,24.7"/><path d="M454.5,148.9 C450.6,145.1 437.8,133.3 430.9,125.7 C424.1,118.1 418.6,110.2 413.6,103.1 C408.5,96.1 404.3,89.8 400.6,83.3 C396.8,76.9 393.2,69.4 391.2,64.5 C389.2,59.6 388.7,57.5 388.3,54.2 C387.8,51.0 388.1,48.3 388.4,45.1 C388.8,41.9 389.8,38.4 390.6,35.1 C391.3,31.7 392.6,26.5 393.0,24.8"/><path d="M455.8,147.6 C451.9,143.8 439.2,132.3 432.4,124.8 C425.6,117.2 420.2,109.5 415.1,102.5 C410.1,95.4 405.9,89.1 402.2,82.7 C398.5,76.3 395.0,68.8 392.9,64.0 C390.8,59.2 390.4,57.0 389.9,53.8 C389.4,50.6 389.6,47.9 389.9,44.8 C390.2,41.7 391.1,38.3 391.8,35.0 C392.5,31.7 393.6,26.6 394.0,24.9"/><path d="M457.2,146.3 C453.3,142.5 440.6,131.2 433.9,123.8 C427.1,116.4 421.7,108.7 416.7,101.8 C411.7,94.8 407.6,88.4 403.9,82.0 C400.2,75.7 396.7,68.3 394.6,63.5 C392.5,58.7 392.1,56.5 391.5,53.4 C391.0,50.2 391.1,47.6 391.4,44.5 C391.6,41.5 392.4,38.2 393.0,34.9 C393.6,31.7 394.7,26.7 395.0,25.0"/><path d="M458.5,145.0 C454.6,141.3 442.0,130.2 435.3,122.8 C428.6,115.5 423.3,108.0 418.3,101.1 C413.3,94.2 409.2,87.7 405.5,81.4 C401.9,75.1 398.4,67.7 396.3,63.0 C394.2,58.3 393.7,56.1 393.1,52.9 C392.6,49.8 392.6,47.3 392.8,44.3 C393.0,41.3 393.7,38.0 394.3,34.8 C394.8,31.7 395.7,26.8 396.0,25.1"/><path d="M459.8,143.7 C456.0,140.0 443.4,129.1 436.8,121.9 C430.1,114.7 424.8,107.2 419.9,100.4 C414.9,93.5 410.8,87.1 407.2,80.8 C403.5,74.4 400.1,67.2 398.0,62.5 C395.9,57.8 395.4,55.6 394.8,52.5 C394.1,49.4 394.1,47.0 394.2,44.0 C394.4,41.0 395.0,37.9 395.5,34.8 C396.0,31.7 396.8,26.8 397.0,25.2"/><path d="M461.1,142.4 C457.3,138.8 444.8,128.0 438.2,120.9 C431.6,113.8 426.3,106.5 421.4,99.7 C416.6,92.9 412.5,86.4 408.8,80.1 C405.2,73.8 401.8,66.7 399.7,62.0 C397.6,57.3 397.0,55.1 396.4,52.1 C395.7,49.0 395.6,46.6 395.7,43.7 C395.8,40.8 396.4,37.8 396.7,34.7 C397.1,31.6 397.8,26.9 398.0,25.4"/><path d="M462.5,141.1 C458.7,137.5 446.2,127.0 439.6,120.0 C433.1,112.9 427.9,105.7 423.0,99.0 C418.2,92.2 414.1,85.7 410.5,79.5 C406.9,73.2 403.5,66.1 401.4,61.5 C399.3,56.9 398.7,54.6 398.0,51.6 C397.3,48.6 397.2,46.3 397.1,43.5 C397.1,40.6 397.7,37.6 398.0,34.6 C398.3,31.6 398.8,27.0 399.0,25.5"/><path d="M463.8,139.7 C460.0,136.3 447.6,125.9 441.1,119.0 C434.6,112.1 429.4,105.0 424.6,98.3 C419.8,91.6 415.7,85.0 412.1,78.8 C408.6,72.6 405.2,65.6 403.1,61.0 C401.0,56.4 400.4,54.2 399.6,51.2 C398.9,48.2 398.7,46.0 398.6,43.2 C398.5,40.4 399.0,37.5 399.2,34.6 C399.4,31.6 399.9,27.1 400.0,25.6"/><path d="M465.1,138.4 C461.4,135.0 449.0,124.8 442.6,118.0 C436.1,111.2 431.0,104.3 426.2,97.6 C421.4,91.0 417.4,84.3 413.8,78.2 C410.2,72.0 406.9,65.1 404.8,60.5 C402.7,55.9 402.0,53.7 401.2,50.8 C400.4,47.8 400.2,45.6 400.1,42.9 C399.9,40.2 400.3,37.4 400.4,34.5 C400.6,31.6 400.9,27.2 401.0,25.7"/><path d="M466.4,137.1 C462.7,133.8 450.4,123.8 444.0,117.1 C437.6,110.4 432.5,103.5 427.8,96.9 C423.0,90.3 419.0,83.7 415.4,77.5 C411.9,71.3 408.6,64.5 406.5,60.0 C404.4,55.5 403.7,53.2 402.8,50.3 C402.0,47.4 401.7,45.3 401.5,42.7 C401.3,40.0 401.6,37.2 401.7,34.4 C401.8,31.6 401.9,27.3 402.0,25.8"/><path d="M467.8,135.8 C464.1,132.5 451.9,122.7 445.4,116.1 C439.0,109.5 434.0,102.8 429.3,96.2 C424.6,89.7 420.6,83.0 417.1,76.8 C413.6,70.7 410.3,64.0 408.2,59.5 C406.1,55.0 405.3,52.8 404.4,49.9 C403.6,47.1 403.2,45.0 402.9,42.4 C402.7,39.8 402.9,37.1 402.9,34.3 C402.9,31.6 403.0,27.3 403.0,25.9"/><path d="M469.1,134.5 C465.4,131.3 453.3,121.7 446.9,115.2 C440.5,108.7 435.6,102.0 430.9,95.5 C426.2,89.0 422.3,82.3 418.8,76.2 C415.3,70.1 412.0,63.5 409.9,59.0 C407.8,54.5 407.0,52.3 406.1,49.5 C405.1,46.7 404.7,44.7 404.4,42.1 C404.1,39.6 404.2,37.0 404.1,34.3 C404.1,31.6 404.0,27.4 404.0,26.1"/><path d="M470.4,133.2 C466.7,130.0 454.7,120.6 448.4,114.2 C442.0,107.8 437.1,101.3 432.5,94.8 C427.8,88.4 423.9,81.6 420.4,75.6 C416.9,69.5 413.7,62.9 411.6,58.5 C409.5,54.1 408.6,51.8 407.7,49.0 C406.7,46.3 406.2,44.3 405.9,41.9 C405.5,39.4 405.5,36.8 405.4,34.2 C405.2,31.6 405.1,27.5 405.0,26.2"/><path d="M471.8,131.9 C468.1,128.8 456.1,119.5 449.8,113.2 C443.5,107.0 438.7,100.5 434.1,94.2 C429.4,87.8 425.5,80.9 422.1,74.9 C418.6,68.9 415.4,62.4 413.3,58.0 C411.2,53.6 410.3,51.3 409.3,48.6 C408.3,45.9 407.8,44.0 407.3,41.6 C406.9,39.2 406.8,36.7 406.6,34.1 C406.4,31.6 406.1,27.6 406.0,26.3"/><path d="M473.1,130.6 C469.4,127.5 457.5,118.5 451.2,112.3 C445.0,106.1 440.2,99.8 435.6,93.5 C431.0,87.1 427.2,80.2 423.7,74.2 C420.3,68.3 417.1,61.8 415.0,57.5 C412.9,53.2 412.0,50.9 410.9,48.2 C409.9,45.5 409.3,43.7 408.8,41.3 C408.2,39.0 408.1,36.5 407.8,34.1 C407.5,31.6 407.1,27.7 407.0,26.4"/><path d="M474.4,129.2 C470.8,126.3 458.9,117.4 452.7,111.3 C446.5,105.3 441.8,99.1 437.2,92.8 C432.6,86.5 428.8,79.6 425.4,73.6 C422.0,67.6 418.8,61.3 416.7,57.0 C414.6,52.7 413.6,50.4 412.5,47.7 C411.4,45.1 410.8,43.4 410.2,41.1 C409.6,38.8 409.4,36.4 409.1,34.0 C408.7,31.6 408.2,27.8 408.0,26.5"/><path d="M475.7,127.9 C472.1,125.0 460.3,116.4 454.1,110.4 C448.0,104.4 443.3,98.3 438.8,92.1 C434.3,85.8 430.4,78.9 427.0,73.0 C423.6,67.0 420.5,60.8 418.4,56.5 C416.3,52.2 415.3,49.9 414.1,47.3 C413.0,44.7 412.3,43.0 411.6,40.8 C411.0,38.6 410.7,36.3 410.3,33.9 C409.9,31.6 409.2,27.9 409.0,26.6"/><path d="M477.0,126.6 C473.5,123.8 461.7,115.3 455.6,109.4 C449.5,103.5 444.8,97.6 440.4,91.4 C435.9,85.2 432.1,78.2 428.7,72.3 C425.3,66.4 422.3,60.2 420.1,56.0 C417.9,51.8 416.9,49.4 415.8,46.9 C414.6,44.3 413.8,42.7 413.1,40.5 C412.4,38.4 412.0,36.1 411.5,33.8 C411.0,31.5 410.3,27.9 410.0,26.8"/><path d="M478.4,125.3 C474.8,122.5 463.1,114.2 457.1,108.5 C451.0,102.7 446.4,96.8 441.9,90.7 C437.5,84.6 433.7,77.5 430.3,71.7 C427.0,65.8 424.0,59.7 421.8,55.5 C419.6,51.3 418.6,49.0 417.4,46.4 C416.2,43.9 415.3,42.4 414.6,40.3 C413.8,38.2 413.4,36.0 412.8,33.8 C412.2,31.5 411.3,28.0 411.0,26.9"/><path d="M479.7,124.0 C476.2,121.2 464.5,113.2 458.5,107.5 C452.5,101.8 447.9,96.1 443.5,90.0 C439.1,83.9 435.3,76.8 432.0,71.0 C428.7,65.2 425.7,59.2 423.5,55.0 C421.3,50.8 420.2,48.5 419.0,46.0 C417.8,43.5 416.8,42.0 416.0,40.0 C415.2,38.0 414.7,35.9 414.0,33.7 C413.3,31.5 412.3,28.1 412.0,27.0"/></g></g><polyline points="302.0,53.2 314.6,160.9 410.6,220.8 488.3,152.0" fill="none" stroke="#151515" stroke-width="0.95" stroke-linejoin="round"/><g stroke="#1a1a1a" stroke-width="0.8"><line x1="302.6" y1="54.7" x2="305.0" y2="53.7"/><line x1="308.2" y1="106.3" x2="310.6" y2="105.3"/><line x1="313.9" y1="155.7" x2="316.3" y2="154.7"/></g><text transform="translate(294.9,57.7) rotate(-38)" y="2.0" font-size="5.9" font-family="Liberation Serif, serif" font-weight="normal" font-style="normal" text-anchor="middle" fill="#262626" >600</text><text transform="translate(301.2,111.6) rotate(-38)" y="2.0" font-size="5.9" font-family="Liberation Serif, serif" font-weight="normal" font-style="normal" text-anchor="middle" fill="#262626" >400</text><text transform="translate(308.0,158.2) rotate(-38)" y="2.0" font-size="5.9" font-family="Liberation Serif, serif" font-weight="normal" font-style="normal" text-anchor="middle" fill="#262626" >200</text><g stroke="#1a1a1a" stroke-width="0.8"><line x1="333.3" y1="172.6" x2="334.9" y2="170.7"/><line x1="351.8" y1="184.1" x2="353.4" y2="182.2"/><line x1="370.6" y1="195.8" x2="372.2" y2="193.9"/><line x1="390.2" y1="208.1" x2="391.8" y2="206.2"/></g><text transform="translate(308.6,165.9) rotate(-43)" y="2.1" font-size="5.9" font-family="Liberation Serif, serif" font-weight="normal" font-style="normal" text-anchor="middle" fill="#262626" >500</text><text transform="translate(326.0,176.5) rotate(-43)" y="2.1" font-size="5.9" font-family="Liberation Serif, serif" font-weight="normal" font-style="normal" text-anchor="middle" fill="#262626" >400</text><text transform="translate(344.3,188.0) rotate(-43)" y="2.1" font-size="5.9" font-family="Liberation Serif, serif" font-weight="normal" font-style="normal" text-anchor="middle" fill="#262626" >300</text><text transform="translate(363.3,200.4) rotate(-43)" y="2.1" font-size="5.9" font-family="Liberation Serif, serif" font-weight="normal" font-style="normal" text-anchor="middle" fill="#262626" >200</text><text transform="translate(385.2,212.6) rotate(-43)" y="2.1" font-size="5.9" font-family="Liberation Serif, serif" font-weight="normal" font-style="normal" text-anchor="middle" fill="#262626" >100</text><text transform="translate(407.0,224.3) rotate(-43)" y="2.1" font-size="5.9" font-family="Liberation Serif, serif" font-weight="normal" font-style="normal" text-anchor="middle" fill="#262626" >0</text><g stroke="#1a1a1a" stroke-width="0.8"><line x1="419.6" y1="212.8" x2="417.6" y2="211.2"/><line x1="437.6" y1="196.9" x2="435.6" y2="195.3"/><line x1="454.7" y1="181.8" x2="452.7" y2="180.2"/><line x1="471.7" y1="166.7" x2="469.7" y2="165.1"/></g><text transform="translate(429.4,217.5) rotate(27)" y="2.1" font-size="5.9" font-family="Liberation Serif, serif" font-weight="normal" font-style="normal" text-anchor="middle" fill="#262626" >1200</text><text transform="translate(447.4,201.6) rotate(27)" y="2.1" font-size="5.9" font-family="Liberation Serif, serif" font-weight="normal" font-style="normal" text-anchor="middle" fill="#262626" >1600</text><text transform="translate(464.5,186.5) rotate(27)" y="2.1" font-size="5.9" font-family="Liberation Serif, serif" font-weight="normal" font-style="normal" text-anchor="middle" fill="#262626" >2000</text><text transform="translate(481.5,171.4) rotate(27)" y="2.1" font-size="5.9" font-family="Liberation Serif, serif" font-weight="normal" font-style="normal" text-anchor="middle" fill="#262626" >2400</text><text transform="translate(498.1,156.7) rotate(27)" y="2.1" font-size="5.9" font-family="Liberation Serif, serif" font-weight="normal" font-style="normal" text-anchor="middle" fill="#262626" >2800</text><text transform="translate(345.6,201.3) rotate(33.5)" y="2.6" font-size="8.7" font-family="Liberation Serif, serif" font-weight="bold" font-style="italic" text-anchor="middle" fill="#262626" textLength="45.5" lengthAdjust="spacingAndGlyphs" stroke="#222" stroke-width="0.25">Torque(N·m)</text><text transform="translate(472.0,195.6) rotate(-42)" y="2.6" font-size="8.6" font-family="Liberation Serif, serif" font-weight="bold" font-style="normal" text-anchor="middle" fill="#262626" textLength="38" lengthAdjust="spacingAndGlyphs" stroke="#222" stroke-width="0.2">Speed(rpm)</text><text transform="translate(293.0,119.0) rotate(82.2)" y="2.6" font-size="8.6" font-family="Liberation Serif, serif" font-weight="bold" font-style="normal" text-anchor="middle" fill="#262626" textLength="88" lengthAdjust="spacingAndGlyphs" stroke="#222" stroke-width="0.2">SCR inlet temperature(°C)</text><rect x="515.0" y="32.50" width="10.60" height="41.73" fill="#FF8000"/><rect x="515.0" y="73.93" width="10.60" height="41.73" fill="#FFF700"/><rect x="515.0" y="115.36" width="10.60" height="41.73" fill="#00F400"/><rect x="515.0" y="156.79" width="10.60" height="41.73" fill="#00FFFF"/><rect x="515.0" y="32.50" width="10.60" height="165.72" fill="none" stroke="#5a4a3a" stroke-width="0.6"/><line x1="525.6" y1="32.60" x2="528.80" y2="32.60" stroke="#333" stroke-width="0.8"/><text x="530.30" y="35.00" font-size="5.2" font-family="Liberation Serif, serif" fill="#555" textLength="12.20" lengthAdjust="spacingAndGlyphs">600.0</text><line x1="525.6" y1="74.03" x2="528.80" y2="74.03" stroke="#333" stroke-width="0.8"/><text x="530.30" y="76.43" font-size="5.2" font-family="Liberation Serif, serif" fill="#555" textLength="12.20" lengthAdjust="spacingAndGlyphs">500.0</text><line x1="525.6" y1="115.46" x2="528.80" y2="115.46" stroke="#333" stroke-width="0.8"/><text x="530.30" y="117.86" font-size="5.2" font-family="Liberation Serif, serif" fill="#555" textLength="12.20" lengthAdjust="spacingAndGlyphs">400.0</text><line x1="525.6" y1="156.89" x2="528.80" y2="156.89" stroke="#333" stroke-width="0.8"/><text x="530.30" y="159.29" font-size="5.2" font-family="Liberation Serif, serif" fill="#555" textLength="12.20" lengthAdjust="spacingAndGlyphs">300.0</text><line x1="525.6" y1="198.32" x2="528.80" y2="198.32" stroke="#333" stroke-width="0.8"/><text x="530.30" y="200.72" font-size="5.2" font-family="Liberation Serif, serif" fill="#555" textLength="12.20" lengthAdjust="spacingAndGlyphs">200.0</text></g>
<g id="plot-c"><g fill="none" stroke="#8c8c8c" stroke-width="0.7"><polyline points="165.0,296.6 258.4,248.7 363.8,289.0 351.3,395.4"/><line x1="258.4" y1="249.0" x2="258.4" y2="303" stroke="#b8b8b8" stroke-width="0.9"/><polyline points="177.6,404.3 260.8,352.7 351.3,395.4"/></g><mask id="cc" maskUnits="userSpaceOnUse" x="0" y="0" width="550" height="496"><path d="M184.5,304.5 L193.9,305.3 L205.5,304.5 L215.7,300.9 L224.5,299.9 L236,300.2 L247.7,300.9 L255,302.4 L264.5,304 L274,306.7 L281.5,309 L289,316.7 L299,328 L309,339 L319.5,350.5 L328.5,362 L336,370.7 L342,376.5 L334,385.7 L319,397 L299,414.5 L284,427 L274,433 L262.9,439.3 L258.7,430.7 L247.4,407 L242.3,397.5 L234.7,382.6 L227.4,368.4 L222.6,358.7 L216.6,349 L211,340 L206.5,333.8 L201.5,328.6 L196.5,327.3 L192.5,328.1 L186.6,330.7 L183,316.2 Z" fill="#fff"/></mask><g mask="url(#cc)"><rect x="0" y="0" width="550" height="496" fill="#FF8218"/><path d="M242.0,296.0 C242.2,297.1 242.8,300.7 243.4,302.4 C244.0,304.1 245.4,304.6 245.5,306.0 C245.6,307.4 245.2,309.3 244.1,311.1 C243.0,312.9 240.7,314.8 239.0,316.9 C237.3,319.0 235.1,321.8 233.8,324.0 C232.5,326.2 231.7,328.0 231.0,330.0 C230.3,332.0 230.0,333.9 229.8,336.0 C229.6,338.1 230.0,340.4 229.8,342.6 C229.6,344.8 229.4,347.0 228.7,349.0 C228.0,351.0 227.1,352.7 225.8,354.7 C224.5,356.7 221.8,359.9 221.0,361.0 L221,600 L600,600 L600,0 L242,0 Z" fill="#FFB400"/><path d="M286.0,306.0 C285.2,306.7 281.8,308.0 281.5,310.0 C281.2,312.0 284.1,315.6 284.0,318.0 C283.9,320.4 282.9,322.3 281.0,324.5 C279.1,326.7 275.7,328.7 272.5,331.0 C269.3,333.3 265.2,336.1 262.0,338.5 C258.8,340.9 255.3,343.3 253.0,345.5 C250.7,347.7 249.4,349.1 248.2,351.5 C247.0,353.9 246.7,357.2 246.0,360.0 C245.3,362.8 244.8,365.5 243.8,368.0 C242.8,370.5 241.5,372.5 240.0,375.0 C238.5,377.5 236.5,380.1 234.7,382.8 C232.9,385.5 229.9,389.6 229.0,391.0 L229,600 L600,600 L600,0 L286,0 Z" fill="#8CEB00"/><path d="M316.0,334.0 C314.8,334.8 310.8,337.3 309.0,339.0 C307.2,340.7 307.1,342.1 305.0,344.0 C302.9,345.9 299.3,348.6 296.5,350.5 C293.7,352.4 290.8,353.8 288.0,355.5 C285.2,357.2 282.8,358.6 280.0,360.5 C277.2,362.4 274.2,364.5 271.5,367.0 C268.8,369.5 266.2,372.5 264.0,375.5 C261.8,378.5 260.2,381.8 258.5,385.0 C256.8,388.2 255.4,392.0 254.0,395.0 C252.6,398.0 251.1,400.8 250.0,403.0 C248.9,405.2 248.3,406.0 247.3,408.0 C246.3,410.0 244.6,413.8 244.0,415.0 L244,600 L600,600 L600,0 L316,0 Z" fill="#00DC00"/><path d="M336.0,362.0 C335.1,362.7 332.2,364.7 330.6,366.1 C329.0,367.5 329.0,368.5 326.6,370.2 C324.2,371.9 320.1,374.6 316.5,376.2 C312.9,377.8 308.3,378.5 304.7,380.0 C301.1,381.5 297.6,383.2 295.0,385.0 C292.4,386.8 291.0,388.4 289.0,390.5 C287.0,392.6 285.4,395.3 283.0,397.8 C280.6,400.3 277.1,402.7 274.5,405.3 C271.9,407.9 269.3,410.5 267.5,413.5 C265.7,416.5 264.9,420.2 263.9,423.5 C262.9,426.8 262.2,430.8 261.7,433.5 C261.2,436.2 261.2,437.6 260.8,440.0 C260.4,442.4 259.7,446.7 259.5,448.0 L259.5,600 L600,600 L600,0 L336,0 Z" fill="#00A0FF"/><path d="M193.9,308.2 C194.6,307.9 196.6,306.6 198.3,306.3 C200.0,306.1 202.1,306.0 204.0,306.7 C205.9,307.4 208.5,309.1 209.9,310.4 C211.3,311.7 212.2,313.1 212.5,314.7 C212.8,316.3 212.6,318.2 212.0,319.8 C211.4,321.4 210.4,323.3 209.2,324.2 C208.0,325.1 206.2,325.6 204.8,325.2 C203.4,324.8 201.8,323.5 200.5,322.0 C199.2,320.5 197.8,318.0 196.8,316.2 C195.8,314.4 194.8,312.4 194.3,311.1 C193.8,309.8 194.0,308.7 193.9,308.2 Z" fill="#FF1414"/><g stroke="rgba(0,0,0,0.22)" stroke-width="0.38" fill="none"><path d="M264.5,439.0 C261.7,433.7 252.6,416.4 247.6,407.0 C242.6,397.6 238.9,390.7 234.7,382.6 C230.5,374.6 226.5,365.8 222.6,358.7 C218.7,351.6 214.3,345.4 211.0,340.0 C207.7,334.6 205.0,330.7 203.0,326.0 C201.0,321.3 199.7,317.0 199.0,312.0 C198.3,307.0 199.0,298.7 199.0,296.0"/><path d="M265.8,438.0 C263.0,432.7 253.9,415.6 248.9,406.2 C244.0,396.9 240.1,389.9 235.9,381.9 C231.7,373.8 227.7,365.1 223.7,358.0 C219.7,350.9 215.4,344.9 212.2,339.5 C208.9,334.1 206.2,330.2 204.3,325.6 C202.3,321.0 201.0,316.7 200.3,311.7 C199.7,306.8 200.4,298.5 200.4,295.9"/><path d="M267.1,436.9 C264.3,431.7 255.3,414.8 250.3,405.5 C245.3,396.2 241.4,389.2 237.2,381.1 C232.9,373.1 228.8,364.3 224.8,357.3 C220.8,350.3 216.6,344.3 213.3,339.0 C210.1,333.6 207.5,329.8 205.5,325.2 C203.6,320.6 202.3,316.4 201.7,311.5 C201.0,306.6 201.7,298.4 201.7,295.7"/><path d="M268.4,435.9 C265.6,430.7 256.6,414.0 251.6,404.8 C246.7,395.5 242.7,388.4 238.4,380.4 C234.1,372.4 229.9,363.6 225.9,356.6 C221.9,349.6 217.7,343.8 214.5,338.4 C211.3,333.1 208.7,329.3 206.8,324.8 C204.9,320.3 203.6,316.1 203.0,311.2 C202.4,306.3 203.1,298.2 203.1,295.6"/><path d="M269.7,434.8 C266.9,429.7 258.0,413.2 253.0,404.0 C248.0,394.8 244.0,387.7 239.7,379.7 C235.3,371.7 231.0,362.9 227.0,355.9 C223.0,348.9 218.9,343.2 215.7,337.9 C212.5,332.7 210.0,328.9 208.1,324.4 C206.2,319.9 204.9,315.8 204.3,310.9 C203.7,306.1 204.4,298.0 204.5,295.5"/><path d="M271.0,433.8 C268.2,428.7 259.4,412.4 254.3,403.2 C249.3,394.1 245.3,387.0 240.9,379.0 C236.5,371.0 232.1,362.1 228.1,355.2 C224.1,348.3 220.0,342.6 216.9,337.4 C213.7,332.2 211.2,328.5 209.3,324.0 C207.5,319.5 206.2,315.4 205.7,310.7 C205.1,305.9 205.8,297.9 205.8,295.3"/><path d="M272.2,432.8 C269.5,427.7 260.7,411.6 255.7,402.5 C250.7,393.4 246.5,386.2 242.1,378.2 C237.7,370.2 233.3,361.4 229.2,354.5 C225.2,347.6 221.2,342.0 218.1,336.9 C214.9,331.8 212.4,328.0 210.6,323.6 C208.8,319.2 207.6,315.1 207.0,310.4 C206.4,305.7 207.2,297.7 207.2,295.2"/><path d="M273.5,431.7 C270.8,426.7 262.1,410.8 257.0,401.8 C252.0,392.7 247.8,385.5 243.4,377.5 C238.9,369.5 234.4,360.7 230.3,353.8 C226.3,346.9 222.3,341.5 219.2,336.4 C216.1,331.3 213.7,327.6 211.9,323.2 C210.1,318.8 208.9,314.8 208.3,310.1 C207.8,305.4 208.5,297.6 208.6,295.1"/><path d="M274.8,430.7 C272.1,425.7 263.4,410.0 258.4,401.0 C253.3,392.0 249.1,384.8 244.6,376.8 C240.1,368.8 235.5,359.9 231.5,353.1 C227.4,346.3 223.5,340.9 220.4,335.9 C217.3,330.8 214.9,327.1 213.1,322.8 C211.3,318.5 210.2,314.5 209.7,309.9 C209.1,305.2 209.9,297.4 209.9,294.9"/><path d="M276.1,429.6 C273.4,424.7 264.8,409.2 259.7,400.2 C254.7,391.3 250.4,384.0 245.8,376.1 C241.3,368.1 236.6,359.2 232.6,352.4 C228.5,345.6 224.6,340.4 221.6,335.4 C218.5,330.4 216.2,326.7 214.4,322.4 C212.6,318.1 211.5,314.2 211.0,309.6 C210.5,305.0 211.2,297.3 211.3,294.8"/><path d="M277.4,428.6 C274.7,423.7 266.1,408.4 261.1,399.5 C256.0,390.6 251.7,383.3 247.1,375.3 C242.5,367.4 237.7,358.4 233.7,351.7 C229.6,344.9 225.8,339.8 222.8,334.8 C219.8,329.9 217.4,326.2 215.7,322.0 C213.9,317.8 212.8,313.9 212.3,309.3 C211.8,304.8 212.6,297.1 212.7,294.7"/><path d="M278.7,427.5 C276.0,422.7 267.5,407.6 262.4,398.8 C257.4,389.9 252.9,382.6 248.3,374.6 C243.7,366.6 238.8,357.7 234.8,351.0 C230.7,344.3 226.9,339.2 223.9,334.3 C221.0,329.4 218.6,325.8 216.9,321.6 C215.2,317.4 214.1,313.6 213.7,309.1 C213.2,304.6 214.0,297.0 214.0,294.5"/><path d="M280.0,426.5 C277.3,421.8 268.9,406.8 263.8,398.0 C258.7,389.2 254.2,381.8 249.6,373.9 C244.9,365.9 240.0,357.0 235.9,350.3 C231.8,343.6 228.0,338.7 225.1,333.8 C222.2,328.9 219.9,325.4 218.2,321.2 C216.5,317.0 215.5,313.3 215.0,308.8 C214.5,304.3 215.3,296.8 215.4,294.4"/><path d="M281.3,425.5 C278.6,420.8 270.2,406.0 265.1,397.2 C260.0,388.5 255.5,381.1 250.8,373.2 C246.1,365.2 241.1,356.2 237.0,349.6 C232.9,343.0 229.2,338.1 226.3,333.3 C223.4,328.5 221.1,324.9 219.5,320.8 C217.8,316.7 216.8,313.0 216.3,308.5 C215.9,304.1 216.7,296.6 216.8,294.3"/><path d="M282.6,424.4 C279.9,419.8 271.6,405.2 266.5,396.5 C261.4,387.8 256.8,380.4 252.0,372.4 C247.3,364.5 242.2,355.5 238.1,348.9 C234.0,342.3 230.3,337.5 227.4,332.8 C224.6,328.0 222.4,324.5 220.7,320.4 C219.1,316.3 218.1,312.6 217.7,308.3 C217.2,303.9 218.1,296.5 218.1,294.1"/><path d="M283.9,423.4 C281.2,418.8 272.9,404.4 267.8,395.8 C262.7,387.1 258.0,379.6 253.3,371.7 C248.5,363.8 243.3,354.8 239.2,348.2 C235.1,341.6 231.5,336.9 228.6,332.2 C225.8,327.6 223.6,324.0 222.0,320.0 C220.4,316.0 219.4,312.3 219.0,308.0 C218.6,303.7 219.4,296.3 219.5,294.0"/><path d="M285.2,422.3 C282.5,417.8 274.3,403.6 269.2,395.0 C264.1,386.4 259.3,378.9 254.5,371.0 C249.7,363.1 244.4,354.0 240.3,347.5 C236.2,341.0 232.6,336.4 229.8,331.7 C227.0,327.1 224.8,323.6 223.3,319.6 C221.7,315.6 220.7,312.0 220.3,307.7 C219.9,303.4 220.8,296.2 220.9,293.9"/><path d="M286.5,421.3 C283.8,416.8 275.6,402.8 270.5,394.2 C265.4,385.7 260.6,378.2 255.8,370.2 C250.9,362.3 245.5,353.3 241.4,346.8 C237.3,340.3 233.8,335.8 231.0,331.2 C228.2,326.6 226.1,323.2 224.5,319.2 C223.0,315.2 222.0,311.7 221.7,307.5 C221.3,303.2 222.1,296.0 222.2,293.7"/><path d="M287.8,420.2 C285.1,415.8 277.0,402.0 271.9,393.5 C266.7,385.0 261.9,377.4 257.0,369.5 C252.1,361.6 246.7,352.6 242.5,346.1 C238.4,339.6 234.9,335.2 232.2,330.7 C229.4,326.1 227.3,322.7 225.8,318.8 C224.3,314.9 223.4,311.4 223.0,307.2 C222.6,303.0 223.5,295.9 223.6,293.6"/><path d="M289.0,419.2 C286.4,414.8 278.4,401.2 273.2,392.8 C268.1,384.3 263.2,376.7 258.2,368.8 C253.3,360.9 247.8,351.8 243.6,345.4 C239.5,339.0 236.1,334.7 233.3,330.2 C230.6,325.7 228.6,322.3 227.1,318.4 C225.6,314.5 224.7,311.1 224.3,306.9 C224.0,302.8 224.9,295.7 225.0,293.5"/><path d="M290.3,418.2 C287.7,413.8 279.7,400.4 274.6,392.0 C269.4,383.6 264.4,375.9 259.5,368.1 C254.5,360.2 248.9,351.1 244.7,344.7 C240.6,338.3 237.2,334.1 234.5,329.7 C231.8,325.2 229.8,321.8 228.3,318.0 C226.9,314.2 226.0,310.8 225.7,306.7 C225.3,302.6 226.2,295.6 226.3,293.3"/><path d="M291.6,417.1 C289.0,412.8 281.1,399.5 275.9,391.2 C270.8,383.0 265.7,375.2 260.7,367.3 C255.7,359.5 250.0,350.4 245.8,344.0 C241.7,337.6 238.4,333.5 235.7,329.1 C233.0,324.8 231.0,321.4 229.6,317.6 C228.2,313.8 227.3,310.5 227.0,306.4 C226.7,302.3 227.6,295.4 227.7,293.2"/><path d="M292.9,416.1 C290.3,411.8 282.4,398.7 277.3,390.5 C272.1,382.3 267.0,374.5 261.9,366.6 C256.9,358.7 251.1,349.6 246.9,343.3 C242.8,337.0 239.5,333.0 236.8,328.6 C234.2,324.3 232.3,320.9 230.9,317.2 C229.4,313.4 228.6,310.2 228.3,306.1 C228.0,302.1 228.9,295.2 229.1,293.1"/><path d="M294.2,415.0 C291.6,410.8 283.8,397.9 278.6,389.8 C273.4,381.6 268.3,373.7 263.2,365.9 C258.1,358.0 252.2,348.9 248.1,342.6 C243.9,336.3 240.7,332.4 238.0,328.1 C235.4,323.8 233.5,320.5 232.1,316.8 C230.7,313.1 229.9,309.8 229.7,305.9 C229.4,301.9 230.3,295.1 230.4,292.9"/><path d="M295.5,414.0 C292.9,409.8 285.1,397.1 280.0,389.0 C274.8,380.9 269.6,373.0 264.4,365.2 C259.3,357.3 253.4,348.2 249.2,341.9 C245.0,335.6 241.8,331.9 239.2,327.6 C236.6,323.4 234.8,320.1 233.4,316.4 C232.0,312.7 231.3,309.5 231.0,305.6 C230.7,301.7 231.7,294.9 231.8,292.8"/><path d="M296.8,413.0 C294.2,408.8 286.5,396.3 281.3,388.2 C276.1,380.2 270.8,372.3 265.7,364.4 C260.5,356.6 254.5,347.4 250.3,341.2 C246.1,335.0 243.0,331.3 240.4,327.1 C237.8,322.9 236.0,319.6 234.7,316.0 C233.3,312.4 232.6,309.2 232.3,305.3 C232.1,301.4 233.0,294.8 233.2,292.7"/><path d="M298.1,411.9 C295.5,407.8 287.9,395.5 282.7,387.5 C277.5,379.5 272.1,371.5 266.9,363.7 C261.7,355.9 255.6,346.7 251.4,340.5 C247.1,334.3 244.1,330.7 241.6,326.6 C239.0,322.4 237.2,319.2 235.9,315.6 C234.6,312.0 233.9,308.9 233.7,305.1 C233.4,301.2 234.4,294.6 234.5,292.5"/><path d="M299.4,410.9 C296.8,406.9 289.2,394.7 284.0,386.8 C278.8,378.8 273.4,370.8 268.1,363.0 C262.9,355.2 256.7,346.0 252.5,339.8 C248.2,333.6 245.3,330.2 242.7,326.1 C240.2,321.9 238.5,318.7 237.2,315.2 C235.9,311.7 235.2,308.6 235.0,304.8 C234.8,301.0 235.8,294.5 235.9,292.4"/><path d="M300.7,409.8 C298.1,405.9 290.6,393.9 285.4,386.0 C280.1,378.1 274.7,370.1 269.4,362.3 C264.1,354.4 257.8,345.2 253.6,339.1 C249.3,333.0 246.4,329.6 243.9,325.5 C241.4,321.5 239.7,318.3 238.5,314.8 C237.2,311.3 236.5,308.3 236.3,304.5 C236.1,300.8 237.1,294.3 237.3,292.3"/><path d="M302.0,408.8 C299.4,404.9 291.9,393.1 286.7,385.2 C281.5,377.4 275.9,369.3 270.6,361.5 C265.3,353.7 258.9,344.5 254.7,338.4 C250.4,332.3 247.6,329.0 245.1,325.0 C242.6,321.0 241.0,317.9 239.7,314.4 C238.5,310.9 237.8,308.0 237.7,304.3 C237.5,300.6 238.5,294.2 238.6,292.1"/><path d="M303.2,407.8 C300.7,403.9 293.3,392.3 288.1,384.5 C282.8,376.7 277.2,368.6 271.9,360.8 C266.5,353.0 260.1,343.8 255.8,337.7 C251.5,331.6 248.7,328.4 246.2,324.5 C243.8,320.6 242.2,317.4 241.0,314.0 C239.8,310.6 239.2,307.7 239.0,304.0 C238.8,300.3 239.8,294.0 240.0,292.0"/><path d="M304.5,406.7 C302.0,402.9 294.6,391.5 289.4,383.8 C284.2,376.0 278.5,367.9 273.1,360.1 C267.7,352.3 261.2,343.0 256.9,337.0 C252.6,331.0 249.9,327.9 247.4,324.0 C245.0,320.1 243.4,317.0 242.3,313.6 C241.1,310.2 240.5,307.4 240.3,303.7 C240.2,300.1 241.2,293.8 241.4,291.9"/><path d="M305.8,405.7 C303.3,401.9 296.0,390.7 290.7,383.0 C285.5,375.3 279.8,367.1 274.3,359.3 C268.9,351.6 262.3,342.3 258.0,336.3 C253.7,330.3 251.0,327.3 248.6,323.5 C246.2,319.6 244.7,316.5 243.5,313.2 C242.4,309.9 241.8,307.0 241.7,303.5 C241.5,299.9 242.6,293.7 242.7,291.7"/><path d="M307.1,404.6 C304.6,400.9 297.4,389.9 292.1,382.2 C286.8,374.6 281.1,366.4 275.6,358.6 C270.1,350.8 263.4,341.5 259.1,335.6 C254.8,329.7 252.2,326.8 249.8,322.9 C247.4,319.1 245.9,316.1 244.8,312.8 C243.7,309.5 243.1,306.7 243.0,303.2 C242.9,299.7 243.9,293.5 244.1,291.6"/><path d="M308.4,403.6 C305.9,399.9 298.7,389.1 293.4,381.5 C288.2,373.9 282.3,365.7 276.8,357.9 C271.3,350.1 264.5,340.8 260.2,334.9 C255.9,329.0 253.3,326.2 250.9,322.4 C248.6,318.7 247.2,315.6 246.1,312.4 C245.0,309.1 244.4,306.4 244.3,302.9 C244.2,299.4 245.3,293.4 245.5,291.5"/><path d="M309.7,402.5 C307.2,398.9 300.1,388.3 294.8,380.8 C289.5,373.2 283.6,364.9 278.0,357.2 C272.5,349.4 265.7,340.1 261.3,334.2 C257.0,328.3 254.5,325.6 252.1,321.9 C249.8,318.2 248.4,315.2 247.3,312.0 C246.3,308.8 245.8,306.1 245.7,302.7 C245.6,299.2 246.6,293.2 246.8,291.3"/><path d="M311.0,401.5 C308.5,397.9 301.4,387.5 296.1,380.0 C290.9,372.5 284.9,364.2 279.3,356.4 C273.7,348.7 266.8,339.3 262.4,333.5 C258.1,327.7 255.6,325.0 253.3,321.4 C251.0,317.8 249.7,314.8 248.6,311.6 C247.5,308.4 247.1,305.8 247.0,302.4 C246.9,299.0 248.0,293.1 248.2,291.2"/><path d="M312.3,400.5 C309.8,396.9 302.8,386.7 297.5,379.2 C292.2,371.8 286.2,363.5 280.5,355.7 C274.9,348.0 267.9,338.6 263.5,332.8 C259.2,327.0 256.8,324.5 254.5,320.9 C252.2,317.3 250.9,314.3 249.9,311.2 C248.8,308.1 248.4,305.5 248.3,302.1 C248.3,298.8 249.4,292.9 249.6,291.1"/><path d="M313.6,399.4 C311.1,395.9 304.1,385.9 298.8,378.5 C293.5,371.1 287.5,362.7 281.8,355.0 C276.1,347.3 269.0,337.9 264.7,332.1 C260.3,326.3 257.9,323.9 255.7,320.4 C253.4,316.8 252.1,313.9 251.1,310.8 C250.1,307.7 249.7,305.2 249.7,301.9 C249.6,298.6 250.7,292.8 250.9,290.9"/><path d="M314.9,398.4 C312.4,394.9 305.5,385.1 300.2,377.8 C294.9,370.4 288.7,362.0 283.0,354.3 C277.3,346.5 270.1,337.1 265.8,331.4 C261.4,325.7 259.1,323.4 256.8,319.9 C254.6,316.4 253.4,313.4 252.4,310.4 C251.4,307.4 251.0,304.9 251.0,301.6 C251.0,298.3 252.1,292.6 252.3,290.8"/><path d="M316.2,397.3 C313.7,393.9 306.9,384.3 301.5,377.0 C296.2,369.7 290.0,361.2 284.2,353.5 C278.5,345.8 271.2,336.4 266.9,330.7 C262.5,325.0 260.2,322.8 258.0,319.3 C255.8,315.9 254.6,313.0 253.7,310.0 C252.7,307.0 252.3,304.6 252.3,301.3 C252.3,298.1 253.4,292.4 253.7,290.7"/><path d="M317.5,396.3 C315.0,393.0 308.2,383.5 302.9,376.2 C297.6,369.0 291.3,360.5 285.5,352.8 C279.7,345.1 272.4,335.7 268.0,330.0 C263.6,324.3 261.3,322.2 259.2,318.8 C257.0,315.4 255.9,312.6 254.9,309.6 C254.0,306.6 253.7,304.2 253.7,301.1 C253.7,297.9 254.8,292.3 255.0,290.5"/><path d="M318.8,395.2 C316.3,392.0 309.6,382.7 304.2,375.5 C298.9,368.3 292.6,359.8 286.7,352.1 C280.9,344.4 273.5,334.9 269.1,329.3 C264.7,323.7 262.5,321.7 260.4,318.3 C258.2,314.9 257.1,312.1 256.2,309.2 C255.3,306.3 255.0,303.9 255.0,300.8 C255.0,297.7 256.2,292.1 256.4,290.4"/><path d="M320.0,394.2 C317.6,391.0 310.9,381.9 305.6,374.8 C300.2,367.6 293.8,359.0 287.9,351.4 C282.0,343.7 274.6,334.2 270.2,328.6 C265.8,323.0 263.6,321.1 261.5,317.8 C259.4,314.5 258.3,311.7 257.5,308.8 C256.6,305.9 256.3,303.6 256.3,300.5 C256.4,297.4 257.5,292.0 257.8,290.3"/><path d="M321.3,393.2 C318.9,390.0 312.3,381.1 306.9,374.0 C301.6,366.9 295.1,358.3 289.2,350.6 C283.2,342.9 275.7,333.5 271.3,327.9 C266.9,322.3 264.8,320.5 262.7,317.3 C260.6,314.0 259.6,311.2 258.7,308.4 C257.9,305.6 257.6,303.3 257.7,300.3 C257.7,297.2 258.9,291.8 259.1,290.1"/><path d="M322.6,392.1 C320.2,389.0 313.6,380.3 308.3,373.2 C302.9,366.2 296.4,357.6 290.4,349.9 C284.4,342.2 276.8,332.7 272.4,327.2 C268.0,321.7 265.9,319.9 263.9,316.8 C261.8,313.6 260.8,310.8 260.0,308.0 C259.2,305.2 258.9,303.0 259.0,300.0 C259.1,297.0 260.2,291.7 260.5,290.0"/><path d="M323.9,391.1 C321.5,388.0 315.0,379.5 309.6,372.5 C304.2,365.5 297.7,356.8 291.7,349.2 C285.6,341.5 277.9,332.0 273.5,326.5 C269.1,321.0 267.1,319.4 265.1,316.2 C263.0,313.1 262.1,310.4 261.3,307.6 C260.5,304.9 260.2,302.7 260.3,299.7 C260.4,296.8 261.6,291.5 261.9,289.9"/><path d="M325.2,390.0 C322.8,387.0 316.4,378.7 311.0,371.8 C305.6,364.8 299.0,356.1 292.9,348.4 C286.8,340.8 279.1,331.3 274.6,325.8 C270.2,320.3 268.2,318.8 266.2,315.7 C264.2,312.6 263.3,309.9 262.5,307.2 C261.8,304.5 261.6,302.4 261.7,299.5 C261.8,296.6 263.0,291.4 263.2,289.7"/><path d="M326.5,389.0 C324.1,386.0 317.7,377.9 312.3,371.0 C306.9,364.1 300.2,355.4 294.1,347.7 C288.0,340.1 280.2,330.5 275.7,325.1 C271.3,319.7 269.4,318.2 267.4,315.2 C265.4,312.1 264.5,309.5 263.8,306.8 C263.1,304.1 262.9,302.1 263.0,299.2 C263.1,296.3 264.3,291.2 264.6,289.6"/><path d="M327.8,388.0 C325.4,385.0 319.1,377.1 313.7,370.2 C308.3,363.4 301.5,354.6 295.4,347.0 C289.2,339.4 281.3,329.8 276.8,324.4 C272.4,319.0 270.5,317.7 268.6,314.7 C266.6,311.7 265.8,309.0 265.1,306.4 C264.4,303.8 264.2,301.8 264.3,298.9 C264.5,296.1 265.7,291.0 266.0,289.5"/><path d="M329.1,386.9 C326.7,384.0 320.4,376.3 315.0,369.5 C309.6,362.7 302.8,353.9 296.6,346.3 C290.4,338.6 282.4,329.0 277.9,323.7 C273.5,318.4 271.7,317.1 269.8,314.2 C267.8,311.2 267.0,308.6 266.3,306.0 C265.7,303.4 265.5,301.4 265.7,298.7 C265.8,295.9 267.1,290.9 267.3,289.3"/><path d="M330.4,385.9 C328.0,383.0 321.8,375.5 316.4,368.8 C310.9,362.0 304.1,353.2 297.9,345.5 C291.6,337.9 283.5,328.3 279.0,323.0 C274.6,317.7 272.8,316.5 270.9,313.6 C269.0,310.8 268.3,308.1 267.6,305.6 C266.9,303.1 266.8,301.1 267.0,298.4 C267.2,295.7 268.4,290.7 268.7,289.2"/><path d="M331.7,384.8 C329.3,382.0 323.1,374.7 317.7,368.0 C312.3,361.3 305.4,352.4 299.1,344.8 C292.8,337.2 284.6,327.6 280.1,322.3 C275.6,317.0 274.0,316.0 272.1,313.1 C270.2,310.3 269.5,307.7 268.9,305.2 C268.2,302.7 268.1,300.8 268.3,298.1 C268.5,295.4 269.8,290.6 270.1,289.1"/><path d="M333.0,383.8 C330.6,381.0 324.5,373.9 319.1,367.2 C313.6,360.6 306.6,351.7 300.3,344.1 C294.0,336.5 285.8,326.8 281.3,321.6 C276.7,316.4 275.1,315.4 273.3,312.6 C271.4,309.8 270.7,307.3 270.1,304.8 C269.5,302.3 269.4,300.5 269.7,297.9 C269.9,295.2 271.1,290.4 271.4,288.9"/><path d="M334.2,382.8 C331.9,380.0 325.9,373.1 320.4,366.5 C315.0,359.9 307.9,351.0 301.6,343.4 C295.2,335.8 286.9,326.1 282.4,320.9 C277.8,315.7 276.3,314.9 274.4,312.1 C272.6,309.4 272.0,306.8 271.4,304.4 C270.8,302.0 270.8,300.2 271.0,297.6 C271.2,295.0 272.5,290.3 272.8,288.8"/><path d="M335.5,381.7 C333.2,379.0 327.2,372.3 321.8,365.8 C316.3,359.2 309.2,350.2 302.8,342.6 C296.4,335.0 288.0,325.4 283.5,320.2 C278.9,315.0 277.4,314.3 275.6,311.6 C273.8,308.9 273.2,306.4 272.7,304.0 C272.1,301.6 272.1,299.9 272.3,297.3 C272.6,294.8 273.9,290.1 274.2,288.7"/><path d="M336.8,380.7 C334.5,378.1 328.6,371.5 323.1,365.0 C317.6,358.5 310.5,349.5 304.0,341.9 C297.6,334.3 289.1,324.6 284.6,319.5 C280.0,314.4 278.6,313.7 276.8,311.1 C275.0,308.4 274.5,305.9 273.9,303.6 C273.4,301.3 273.4,299.6 273.7,297.1 C273.9,294.6 275.2,290.0 275.5,288.5"/><path d="M338.1,379.6 C335.8,377.1 329.9,370.7 324.5,364.2 C319.0,357.8 311.7,348.8 305.3,341.2 C298.8,333.6 290.2,323.9 285.7,318.8 C281.1,313.7 279.7,313.2 278.0,310.6 C276.2,307.9 275.7,305.5 275.2,303.2 C274.7,300.9 274.7,299.3 275.0,296.8 C275.3,294.3 276.6,289.8 276.9,288.4"/><path d="M339.4,378.6 C337.1,376.1 331.3,369.9 325.8,363.5 C320.3,357.1 313.0,348.0 306.5,340.5 C300.0,332.9 291.3,323.2 286.8,318.1 C282.2,313.0 280.9,312.6 279.1,310.0 C277.4,307.5 276.9,305.1 276.5,302.8 C276.0,300.6 276.0,299.0 276.3,296.5 C276.6,294.1 277.9,289.6 278.3,288.3"/><path d="M340.7,377.5 C338.4,375.1 332.6,369.1 327.2,362.8 C321.7,356.4 314.3,347.3 307.8,339.7 C301.2,332.2 292.5,322.4 287.9,317.4 C283.3,312.4 282.0,312.0 280.3,309.5 C278.6,307.0 278.2,304.6 277.7,302.4 C277.3,300.2 277.3,298.6 277.7,296.3 C278.0,293.9 279.3,289.5 279.6,288.1"/><path d="M342.0,376.5 C339.8,374.1 334.0,368.2 328.5,362.0 C323.0,355.8 315.6,346.6 309.0,339.0 C302.4,331.4 293.6,321.7 289.0,316.7 C284.4,311.7 283.2,311.4 281.5,309.0 C279.8,306.6 279.4,304.2 279.0,302.0 C278.6,299.8 278.7,298.3 279.0,296.0 C279.3,293.7 280.7,289.3 281.0,288.0"/></g></g><polyline points="165.0,296.6 177.6,404.3 273.6,464.2 351.3,395.4" fill="none" stroke="#151515" stroke-width="0.95" stroke-linejoin="round"/><g stroke="#1a1a1a" stroke-width="0.8"><line x1="166.0" y1="297.5" x2="168.4" y2="296.5"/><line x1="168.2" y1="322.3" x2="170.6" y2="321.3"/><line x1="171.0" y1="346.9" x2="173.4" y2="345.9"/><line x1="173.3" y1="370.9" x2="175.7" y2="369.9"/><line x1="176.1" y1="395.2" x2="178.5" y2="394.2"/></g><text transform="translate(156.4,301.2) rotate(-38)" y="2.0" font-size="5.9" font-family="Liberation Serif, serif" font-weight="normal" font-style="normal" text-anchor="middle" fill="#262626" >2000</text><text transform="translate(160.3,327.4) rotate(-38)" y="2.0" font-size="5.9" font-family="Liberation Serif, serif" font-weight="normal" font-style="normal" text-anchor="middle" fill="#262626" >1600</text><text transform="translate(162.8,353.6) rotate(-38)" y="2.0" font-size="5.9" font-family="Liberation Serif, serif" font-weight="normal" font-style="normal" text-anchor="middle" fill="#262626" >1200</text><text transform="translate(167.7,376.0) rotate(-38)" y="2.0" font-size="5.9" font-family="Liberation Serif, serif" font-weight="normal" font-style="normal" text-anchor="middle" fill="#262626" >800</text><text transform="translate(171.0,398.7) rotate(-38)" y="2.0" font-size="5.9" font-family="Liberation Serif, serif" font-weight="normal" font-style="normal" text-anchor="middle" fill="#262626" >400</text><g stroke="#1a1a1a" stroke-width="0.8"><line x1="196.3" y1="416.0" x2="197.9" y2="414.1"/><line x1="214.8" y1="427.5" x2="216.4" y2="425.6"/><line x1="233.6" y1="439.2" x2="235.2" y2="437.3"/><line x1="253.2" y1="451.5" x2="254.8" y2="449.6"/></g><text transform="translate(171.6,409.3) rotate(-43)" y="2.1" font-size="5.9" font-family="Liberation Serif, serif" font-weight="normal" font-style="normal" text-anchor="middle" fill="#262626" >500</text><text transform="translate(189.0,419.9) rotate(-43)" y="2.1" font-size="5.9" font-family="Liberation Serif, serif" font-weight="normal" font-style="normal" text-anchor="middle" fill="#262626" >400</text><text transform="translate(207.3,431.4) rotate(-43)" y="2.1" font-size="5.9" font-family="Liberation Serif, serif" font-weight="normal" font-style="normal" text-anchor="middle" fill="#262626" >300</text><text transform="translate(226.3,443.8) rotate(-43)" y="2.1" font-size="5.9" font-family="Liberation Serif, serif" font-weight="normal" font-style="normal" text-anchor="middle" fill="#262626" >200</text><text transform="translate(248.2,456.0) rotate(-43)" y="2.1" font-size="5.9" font-family="Liberation Serif, serif" font-weight="normal" font-style="normal" text-anchor="middle" fill="#262626" >100</text><text transform="translate(270.0,467.7) rotate(-43)" y="2.1" font-size="5.9" font-family="Liberation Serif, serif" font-weight="normal" font-style="normal" text-anchor="middle" fill="#262626" >0</text><g stroke="#1a1a1a" stroke-width="0.8"><line x1="282.6" y1="456.2" x2="280.6" y2="454.6"/><line x1="300.6" y1="440.3" x2="298.6" y2="438.7"/><line x1="317.7" y1="425.2" x2="315.7" y2="423.6"/><line x1="334.7" y1="410.1" x2="332.7" y2="408.5"/></g><text transform="translate(292.4,460.9) rotate(27)" y="2.1" font-size="5.9" font-family="Liberation Serif, serif" font-weight="normal" font-style="normal" text-anchor="middle" fill="#262626" >1200</text><text transform="translate(310.4,445.0) rotate(27)" y="2.1" font-size="5.9" font-family="Liberation Serif, serif" font-weight="normal" font-style="normal" text-anchor="middle" fill="#262626" >1600</text><text transform="translate(327.5,429.9) rotate(27)" y="2.1" font-size="5.9" font-family="Liberation Serif, serif" font-weight="normal" font-style="normal" text-anchor="middle" fill="#262626" >2000</text><text transform="translate(344.5,414.8) rotate(27)" y="2.1" font-size="5.9" font-family="Liberation Serif, serif" font-weight="normal" font-style="normal" text-anchor="middle" fill="#262626" >2400</text><text transform="translate(361.1,400.1) rotate(27)" y="2.1" font-size="5.9" font-family="Liberation Serif, serif" font-weight="normal" font-style="normal" text-anchor="middle" fill="#262626" >2800</text><text transform="translate(208.6,444.7) rotate(33.5)" y="2.6" font-size="8.7" font-family="Liberation Serif, serif" font-weight="bold" font-style="italic" text-anchor="middle" fill="#262626" textLength="45.5" lengthAdjust="spacingAndGlyphs" stroke="#222" stroke-width="0.25">Torque(N·m)</text><text transform="translate(335.0,439.0) rotate(-42)" y="2.6" font-size="8.6" font-family="Liberation Serif, serif" font-weight="bold" font-style="normal" text-anchor="middle" fill="#262626" textLength="38" lengthAdjust="spacingAndGlyphs" stroke="#222" stroke-width="0.2">Speed(rpm)</text><text transform="translate(154.2,364.7) rotate(83.8)" y="2.6" font-size="8.6" font-family="Liberation Serif, serif" font-weight="bold" font-style="normal" text-anchor="middle" fill="#262626" textLength="37" lengthAdjust="spacingAndGlyphs" stroke="#222" stroke-width="0.2">NOx(ppm)</text><rect x="373.0" y="278.30" width="10.40" height="27.25" fill="#FF0000"/><rect x="373.0" y="305.25" width="10.40" height="27.25" fill="#FF8218"/><rect x="373.0" y="332.20" width="10.40" height="27.25" fill="#FFB400"/><rect x="373.0" y="359.15" width="10.40" height="27.25" fill="#8CEB00"/><rect x="373.0" y="386.10" width="10.40" height="27.25" fill="#00DC00"/><rect x="373.0" y="413.05" width="10.40" height="27.25" fill="#00A0FF"/><rect x="373.0" y="278.30" width="10.40" height="161.70" fill="none" stroke="#5a4a3a" stroke-width="0.6"/><line x1="383.4" y1="278.40" x2="386.60" y2="278.40" stroke="#333" stroke-width="0.8"/><text x="388.10" y="280.80" font-size="5.2" font-family="Liberation Serif, serif" fill="#555" textLength="9.76" lengthAdjust="spacingAndGlyphs">2000</text><line x1="383.4" y1="305.35" x2="386.60" y2="305.35" stroke="#333" stroke-width="0.8"/><text x="388.10" y="307.75" font-size="5.2" font-family="Liberation Serif, serif" fill="#555" textLength="9.76" lengthAdjust="spacingAndGlyphs">1800</text><line x1="383.4" y1="332.30" x2="386.60" y2="332.30" stroke="#333" stroke-width="0.8"/><text x="388.10" y="334.70" font-size="5.2" font-family="Liberation Serif, serif" fill="#555" textLength="9.76" lengthAdjust="spacingAndGlyphs">1500</text><line x1="383.4" y1="359.25" x2="386.60" y2="359.25" stroke="#333" stroke-width="0.8"/><text x="388.10" y="361.65" font-size="5.2" font-family="Liberation Serif, serif" fill="#555" textLength="9.76" lengthAdjust="spacingAndGlyphs">1200</text><line x1="383.4" y1="386.20" x2="386.60" y2="386.20" stroke="#333" stroke-width="0.8"/><text x="388.10" y="388.60" font-size="5.2" font-family="Liberation Serif, serif" fill="#555" textLength="12.20" lengthAdjust="spacingAndGlyphs">900.0</text><line x1="383.4" y1="413.15" x2="386.60" y2="413.15" stroke="#333" stroke-width="0.8"/><text x="388.10" y="415.55" font-size="5.2" font-family="Liberation Serif, serif" fill="#555" textLength="12.20" lengthAdjust="spacingAndGlyphs">600.0</text><line x1="383.4" y1="440.10" x2="386.60" y2="440.10" stroke="#333" stroke-width="0.8"/><text x="388.10" y="442.50" font-size="5.2" font-family="Liberation Serif, serif" fill="#555" textLength="12.20" lengthAdjust="spacingAndGlyphs">300.0</text></g>
<text x="82" y="243.9" font-size="14.9" font-family="Liberation Serif, serif" fill="#1a1a1a" stroke="#1a1a1a" stroke-width="0.18" lengthAdjust="spacingAndGlyphs" textLength="15">(<tspan font-weight="bold">a</tspan>)</text><text x="101.9" y="243.9" font-size="14.9" font-family="Liberation Serif, serif" fill="#1a1a1a" stroke="#1a1a1a" stroke-width="0.18" lengthAdjust="spacingAndGlyphs" textLength="80.4">Exhaust Flow</text>
<text x="337.6" y="243.9" font-size="14.9" font-family="Liberation Serif, serif" fill="#1a1a1a" stroke="#1a1a1a" stroke-width="0.18" lengthAdjust="spacingAndGlyphs" textLength="15.6">(<tspan font-weight="bold">b</tspan>)</text><text x="358.4" y="243.9" font-size="14.9" font-family="Liberation Serif, serif" fill="#1a1a1a" stroke="#1a1a1a" stroke-width="0.18" lengthAdjust="spacingAndGlyphs" textLength="132.4">SCR inlet temperature</text>
<text x="234.3" y="486.5" font-size="14.9" font-family="Liberation Serif, serif" fill="#1a1a1a" stroke="#1a1a1a" stroke-width="0.18" lengthAdjust="spacingAndGlyphs" textLength="14.4">(<tspan font-weight="bold">c</tspan>)</text><text x="253.7" y="486.5" font-size="14.9" font-family="Liberation Serif, serif" fill="#1a1a1a" stroke="#1a1a1a" stroke-width="0.18" lengthAdjust="spacingAndGlyphs" textLength="58.7">Inlet NOx</text>
</svg></body></html>
